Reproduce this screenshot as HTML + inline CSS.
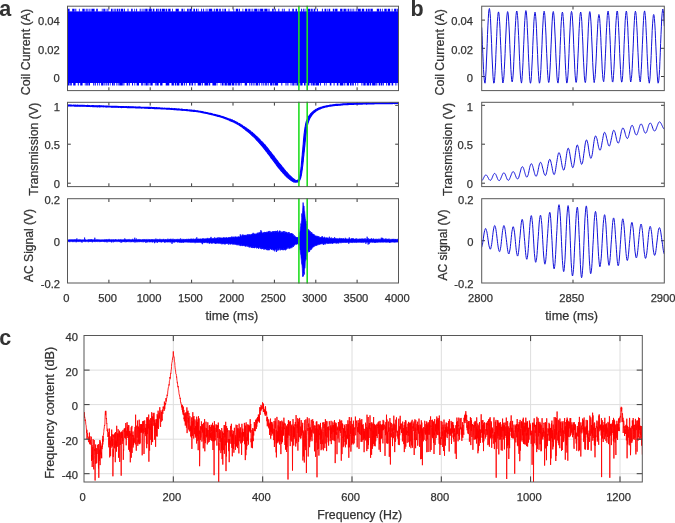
<!DOCTYPE html>
<html lang="en"><head><meta charset="utf-8"><title>Figure</title>
<style>html,body{margin:0;padding:0;background:#fff;overflow:hidden}svg{display:block}</style></head>
<body>
<svg width="675" height="523" viewBox="0 0 675 523" font-family="Liberation Sans, Arial, sans-serif">
<rect width="675" height="523" fill="#ffffff"/>
<defs>
<clipPath id="ca1"><rect x="67.5" y="6.2" width="331" height="84.4"/></clipPath>
<clipPath id="ca2"><rect x="67.5" y="102.3" width="331" height="84.3"/></clipPath>
<clipPath id="ca3"><rect x="67.5" y="198.7" width="331" height="84.3"/></clipPath>
<clipPath id="cb1"><rect x="481.7" y="6.2" width="182.6" height="84.4"/></clipPath>
<clipPath id="cb2"><rect x="481.7" y="102.3" width="182.6" height="84.3"/></clipPath>
<clipPath id="cb3"><rect x="481.7" y="198.7" width="182.6" height="84.3"/></clipPath>
<clipPath id="cc"><rect x="84" y="335.5" width="558.3" height="146.5"/></clipPath>
</defs>
<path d="M108.9 283v-3.3M108.9 198.7v3.3M150.2 283v-3.3M150.2 198.7v3.3M191.6 283v-3.3M191.6 198.7v3.3M233 283v-3.3M233 198.7v3.3M274.4 283v-3.3M274.4 198.7v3.3M315.8 283v-3.3M315.8 198.7v3.3M357.1 283v-3.3M357.1 198.7v3.3M67.5 240.7h3.3M398.5 240.7h-3.3" stroke="#3a3a3a" stroke-width="1" fill="none"/>
<path d="M108.9 186.6v-3.3M108.9 102.3v3.3M150.2 186.6v-3.3M150.2 102.3v3.3M191.6 186.6v-3.3M191.6 102.3v3.3M233 186.6v-3.3M233 102.3v3.3M274.4 186.6v-3.3M274.4 102.3v3.3M315.8 186.6v-3.3M315.8 102.3v3.3M357.1 186.6v-3.3M357.1 102.3v3.3M67.5 183.2h3.3M398.5 183.2h-3.3M67.5 144.2h3.3M398.5 144.2h-3.3M67.5 105.3h3.3M398.5 105.3h-3.3" stroke="#3a3a3a" stroke-width="1" fill="none"/>
<path d="M108.9 90.6v-3.3M108.9 6.2v3.3M150.2 90.6v-3.3M150.2 6.2v3.3M191.6 90.6v-3.3M191.6 6.2v3.3M233 90.6v-3.3M233 6.2v3.3M274.4 90.6v-3.3M274.4 6.2v3.3M315.8 90.6v-3.3M315.8 6.2v3.3M357.1 90.6v-3.3M357.1 6.2v3.3M67.5 76.5h3.3M398.5 76.5h-3.3M67.5 48.3h3.3M398.5 48.3h-3.3M67.5 20.1h3.3M398.5 20.1h-3.3" stroke="#3a3a3a" stroke-width="1" fill="none"/>
<g clip-path="url(#ca1)">
<rect x="67.5" y="11.4" width="331" height="71.6" fill="#0000ff"/>
<path d="M68 8.8h1.6v3h-1.6zM72.2 8.8h2.4v3h-2.4zM75.3 8.8h1v3h-1zM78.9 8.8h0.8v3h-0.8zM82.3 8.8h2.4v3h-2.4zM85.7 8.8h1v3h-1zM87.4 8.8h1v3h-1zM89.4 8.8h1v3h-1zM91.4 8.8h3.2v3h-3.2zM96.2 8.8h1.6v3h-1.6zM101.8 8.8h0.8v3h-0.8zM103.3 8.8h1.6v3h-1.6zM105.6 8.8h0.8v3h-0.8zM107.4 8.8h1v3h-1zM111 8.8h1.6v3h-1.6zM113.6 8.8h1v3h-1zM115.3 8.8h0.8v3h-0.8zM116.8 8.8h1.6v3h-1.6zM119.1 8.8h1v3h-1zM120.8 8.8h2.4v3h-2.4zM123.9 8.8h1v3h-1zM127.5 8.8h1v3h-1zM131.1 8.8h1.6v3h-1.6zM134.3 8.8h0.8v3h-0.8zM136.1 8.8h1v3h-1zM139.7 8.8h1v3h-1zM141.7 8.8h0.8v3h-0.8zM143.5 8.8h1v3h-1zM145.2 8.8h2.4v3h-2.4zM148.6 8.8h3.2v3h-3.2zM152.8 8.8h1.6v3h-1.6zM156 8.8h1.6v3h-1.6zM158.3 8.8h1v3h-1zM160 8.8h1v3h-1zM161.7 8.8h3.2v3h-3.2zM165.6 8.8h1.6v3h-1.6zM168.2 8.8h2.4v3h-2.4zM172.2 8.8h0.8v3h-0.8zM175.6 8.8h3.2v3h-3.2zM181.4 8.8h1.6v3h-1.6zM183.7 8.8h0.8v3h-0.8zM187.1 8.8h1.6v3h-1.6zM189.4 8.8h2.4v3h-2.4zM193.4 8.8h1.6v3h-1.6zM196 8.8h1v3h-1zM197.7 8.8h0.8v3h-0.8zM201.1 8.8h1v3h-1zM203.1 8.8h1v3h-1zM205.7 8.8h0.8v3h-0.8zM207.5 8.8h0.8v3h-0.8zM209 8.8h3.2v3h-3.2zM213.8 8.8h1v3h-1zM215.8 8.8h2.4v3h-2.4zM219.2 8.8h1.6v3h-1.6zM222.4 8.8h1v3h-1zM224.4 8.8h1.6v3h-1.6zM228.6 8.8h0.8v3h-0.8zM233.4 8.8h0.8v3h-0.8zM235.8 8.8h2.4v3h-2.4zM238.9 8.8h1v3h-1zM242.5 8.8h0.8v3h-0.8zM244.9 8.8h2.4v3h-2.4zM248.3 8.8h1.6v3h-1.6zM250.6 8.8h0.8v3h-0.8zM252.4 8.8h0.8v3h-0.8zM254.2 8.8h3.2v3h-3.2zM258.4 8.8h1v3h-1zM260.1 8.8h3.2v3h-3.2zM264.3 8.8h3.2v3h-3.2zM268.5 8.8h1v3h-1zM272.1 8.8h1.6v3h-1.6zM274.7 8.8h1v3h-1zM278.3 8.8h1v3h-1zM281.9 8.8h0.8v3h-0.8zM283.7 8.8h1v3h-1zM288.7 8.8h1v3h-1zM292.3 8.8h1.6v3h-1.6zM295.5 8.8h1.6v3h-1.6zM301.1 8.8h1v3h-1zM303.1 8.8h0.8v3h-0.8zM304.6 8.8h0.8v3h-0.8zM308 8.8h2.4v3h-2.4zM311.1 8.8h1.6v3h-1.6zM313.7 8.8h1.6v3h-1.6zM316.9 8.8h1v3h-1zM321.9 8.8h1v3h-1zM324.5 8.8h1.6v3h-1.6zM326.8 8.8h0.8v3h-0.8zM328.6 8.8h1.6v3h-1.6zM332.8 8.8h1.6v3h-1.6zM335.1 8.8h2.4v3h-2.4zM340.1 8.8h2.4v3h-2.4zM343.5 8.8h2.4v3h-2.4zM346.6 8.8h0.8v3h-0.8zM348.1 8.8h1v3h-1zM349.8 8.8h0.8v3h-0.8zM351.6 8.8h0.8v3h-0.8zM353.4 8.8h0.8v3h-0.8zM355.8 8.8h0.8v3h-0.8zM357.6 8.8h3.2v3h-3.2zM361.8 8.8h2.4v3h-2.4zM365.8 8.8h1.6v3h-1.6zM368.1 8.8h1.6v3h-1.6zM370.4 8.8h2.4v3h-2.4zM376.8 8.8h2.4v3h-2.4zM379.9 8.8h1v3h-1zM381.9 8.8h0.8v3h-0.8zM384.3 8.8h2.4v3h-2.4zM387.7 8.8h2.4v3h-2.4zM391.7 8.8h0.8v3h-0.8zM394.1 8.8h2.4v3h-2.4zM397.2 8.8h1.6v3h-1.6zM68 82.5h1.6v3.1h-1.6zM70.2 82.5h1.6v3.1h-1.6zM73.2 82.5h2.4v3.1h-2.4zM77.8 82.5h1v3.1h-1zM80.2 82.5h2.4v3.1h-2.4zM84.8 82.5h0.8v3.1h-0.8zM86.2 82.5h1.6v3.1h-1.6zM88.4 82.5h1.6v3.1h-1.6zM93.2 82.5h1v3.1h-1zM94.8 82.5h1v3.1h-1zM97.2 82.5h0.8v3.1h-0.8zM98.9 82.5h0.8v3.1h-0.8zM101.1 82.5h2.4v3.1h-2.4zM104.4 82.5h1v3.1h-1zM106.3 82.5h1v3.1h-1zM107.9 82.5h1v3.1h-1zM109.8 82.5h0.8v3.1h-0.8zM112 82.5h1.6v3.1h-1.6zM114.2 82.5h0.8v3.1h-0.8zM116.4 82.5h0.8v3.1h-0.8zM117.8 82.5h0.8v3.1h-0.8zM119.2 82.5h3.6v3.1h-3.6zM123.4 82.5h1v3.1h-1zM126.6 82.5h1.6v3.1h-1.6zM128.8 82.5h1v3.1h-1zM132 82.5h1v3.1h-1zM134.4 82.5h0.8v3.1h-0.8zM136.6 82.5h2.4v3.1h-2.4zM141.2 82.5h1.6v3.1h-1.6zM143.7 82.5h0.8v3.1h-0.8zM145.4 82.5h2.4v3.1h-2.4zM148.4 82.5h1v3.1h-1zM150.3 82.5h2.4v3.1h-2.4zM154.9 82.5h0.8v3.1h-0.8zM156.3 82.5h2.4v3.1h-2.4zM160.1 82.5h2.4v3.1h-2.4zM165.7 82.5h3.6v3.1h-3.6zM171.5 82.5h2.4v3.1h-2.4zM174.8 82.5h1.6v3.1h-1.6zM177 82.5h2.4v3.1h-2.4zM180.8 82.5h2.4v3.1h-2.4zM184.1 82.5h1v3.1h-1zM186 82.5h0.8v3.1h-0.8zM189 82.5h1.6v3.1h-1.6zM191.5 82.5h1.6v3.1h-1.6zM194.5 82.5h1v3.1h-1zM197.7 82.5h3.6v3.1h-3.6zM202.2 82.5h0.8v3.1h-0.8zM204.4 82.5h3.6v3.1h-3.6zM208.6 82.5h1.6v3.1h-1.6zM212.4 82.5h3.6v3.1h-3.6zM216.6 82.5h0.8v3.1h-0.8zM220.6 82.5h0.8v3.1h-0.8zM222 82.5h1.6v3.1h-1.6zM224.5 82.5h2.4v3.1h-2.4zM227.5 82.5h3.6v3.1h-3.6zM231.7 82.5h2.4v3.1h-2.4zM234.7 82.5h1v3.1h-1zM236.3 82.5h1v3.1h-1zM238.2 82.5h1.6v3.1h-1.6zM240.7 82.5h0.8v3.1h-0.8zM244.7 82.5h2.4v3.1h-2.4zM249.3 82.5h1v3.1h-1zM251.2 82.5h1v3.1h-1zM252.8 82.5h0.8v3.1h-0.8zM254.5 82.5h0.8v3.1h-0.8zM255.9 82.5h2.4v3.1h-2.4zM259.2 82.5h0.8v3.1h-0.8zM261.4 82.5h1v3.1h-1zM263.3 82.5h1v3.1h-1zM265.2 82.5h1.6v3.1h-1.6zM267.7 82.5h1v3.1h-1zM270.1 82.5h2.4v3.1h-2.4zM273.1 82.5h0.8v3.1h-0.8zM274.5 82.5h3.6v3.1h-3.6zM281.3 82.5h1v3.1h-1zM285.5 82.5h1v3.1h-1zM287.4 82.5h1v3.1h-1zM290.6 82.5h0.8v3.1h-0.8zM292.3 82.5h1.6v3.1h-1.6zM294.5 82.5h1v3.1h-1zM296.4 82.5h2.4v3.1h-2.4zM300.2 82.5h2.4v3.1h-2.4zM304 82.5h1.6v3.1h-1.6zM307.8 82.5h1.6v3.1h-1.6zM310.8 82.5h1v3.1h-1zM312.4 82.5h2.4v3.1h-2.4zM315.4 82.5h3.6v3.1h-3.6zM319.9 82.5h1v3.1h-1zM324.1 82.5h0.8v3.1h-0.8zM325.8 82.5h0.8v3.1h-0.8zM329.8 82.5h1.6v3.1h-1.6zM333.6 82.5h1v3.1h-1zM336.8 82.5h1.6v3.1h-1.6zM339.8 82.5h3.6v3.1h-3.6zM344.3 82.5h1v3.1h-1zM346.7 82.5h2.4v3.1h-2.4zM350 82.5h1.6v3.1h-1.6zM352.2 82.5h1.6v3.1h-1.6zM355.2 82.5h0.8v3.1h-0.8zM357.4 82.5h0.8v3.1h-0.8zM361.4 82.5h1v3.1h-1zM363.3 82.5h2.4v3.1h-2.4zM366.6 82.5h2.4v3.1h-2.4zM369.6 82.5h1.6v3.1h-1.6zM372.1 82.5h3.6v3.1h-3.6zM376.3 82.5h1v3.1h-1zM378.7 82.5h1.6v3.1h-1.6zM380.9 82.5h1.6v3.1h-1.6zM383.1 82.5h0.8v3.1h-0.8zM386.1 82.5h0.8v3.1h-0.8zM387.8 82.5h2.4v3.1h-2.4zM391.6 82.5h1.6v3.1h-1.6zM395.4 82.5h1v3.1h-1zM397.8 82.5h2.4v3.1h-2.4z" fill="#0000ff"/>
</g>
<g clip-path="url(#ca2)">
<path d="M67.5 105L68.2 105L68.8 105L69.5 105.1L70.2 105.1L70.8 105.1L71.5 105L72.1 105.2L72.8 105.2L73.5 105.1L74.1 105.1L74.8 105.2L75.5 105.1L76.1 105.2L76.8 105.2L77.4 105.1L78.1 105.3L78.8 105.2L79.4 105.2L80.1 105.3L80.8 105.3L81.4 105.3L82.1 105.4L82.8 105.4L83.4 105.4L84.1 105.5L84.7 105.4L85.4 105.5L86.1 105.5L86.7 105.5L87.4 105.4L88.1 105.4L88.7 105.6L89.4 105.6L90.1 105.7L90.7 105.7L91.4 105.7L92 105.5L92.7 105.6L93.4 105.6L94 105.7L94.7 105.7L95.4 105.8L96 105.8L96.7 105.8L97.3 105.7L98 105.9L98.7 105.8L99.3 105.6L100 105.9L100.7 105.9L101.3 105.9L102 105.9L102.7 106L103.3 105.9L104 106L104.6 106L105.3 106L106 106.1L106.6 106.1L107.3 106L108 106.2L108.6 106.2L109.3 106.3L110 106.3L110.6 106.2L111.3 106.3L111.9 106.3L112.6 106.2L113.3 106.2L113.9 106.4L114.6 106.3L115.3 106.4L115.9 106.4L116.6 106.4L117.2 106.5L117.9 106.4L118.6 106.5L119.2 106.5L119.9 106.5L120.6 106.6L121.2 106.5L121.9 106.5L122.6 106.6L123.2 106.6L123.9 106.6L124.5 106.7L125.2 106.6L125.9 106.7L126.5 106.6L127.2 106.7L127.9 106.8L128.5 106.6L129.2 106.8L129.9 106.8L130.5 106.8L131.2 106.8L131.8 106.9L132.5 106.8L133.2 106.9L133.8 106.9L134.5 107L135.2 106.9L135.8 107L136.5 107L137.1 107.1L137.8 107L138.5 107L139.1 106.9L139.8 107.1L140.5 107.1L141.1 107.2L141.8 107.2L142.5 107.2L143.1 107.2L143.8 107.2L144.4 107.3L145.1 107.3L145.8 107.2L146.4 107.3L147.1 107.3L147.8 107.3L148.4 107.4L149.1 107.3L149.8 107.4L150.4 107.5L151.1 107.3L151.7 107.6L152.4 107.5L153.1 107.5L153.7 107.6L154.4 107.6L155.1 107.7L155.7 107.8L156.4 107.6L157 107.7L157.7 107.9L158.4 107.9L159 107.8L159.7 107.9L160.4 108L161 108L161.7 108.1L162.4 108L163 108.1L163.7 108.2L164.3 108.1L165 108.2L165.7 108.2L166.3 108.3L167 108.3L167.7 108.4L168.3 108.3L169 108.3L169.7 108.4L170.3 108.5L171 108.6L171.6 108.4L172.3 108.6L173 108.7L173.6 108.7L174.3 108.5L175 108.8L175.6 108.8L176.3 108.9L176.9 108.9L177.6 109L178.3 109L178.9 108.8L179.6 109.2L180.3 109.2L180.9 109.2L181.6 109.1L182.3 109.3L182.9 109.4L183.6 109.5L184.2 109.5L184.9 109.6L185.6 109.7L186.2 109.6L186.9 109.6L187.6 109.8L188.2 109.9L188.9 110L189.6 109.9L190.2 110.1L190.9 110L191.5 110.1L192.2 110.3L192.9 110.4L193.5 110.4L194.2 110.4L194.9 110.4L195.5 110.6L196.2 110.8L196.8 110.8L197.5 110.8L198.2 111L198.8 111.1L199.5 111.3L200.2 111.4L200.8 111.4L201.5 111.6L202.2 111.6L202.8 111.8L203.5 111.9L204.1 112.1L204.8 112.2L205.5 112.3L206.1 112.5L206.8 112.6L207.5 112.8L208.1 112.9L208.8 113L209.5 113.2L210.1 113.4L210.8 113.4L211.4 113.5L212.1 113.7L212.8 114L213.4 114.2L214.1 114.2L214.8 114.5L215.4 114.6L216.1 114.8L216.7 115L217.4 115.1L218.1 115.2L218.7 115.4L219.4 115.6L220.1 115.8L220.7 116.1L221.4 116.2L222.1 116.4L222.7 116.6L223.4 116.8L224 117L224.7 117.3L225.4 117.5L226 117.7L226.7 118.1L227.4 118.2L228 118.5L228.7 118.8L229.4 119L230 119.1L230.7 119.5L231.3 119.8L232 119.8L232.7 120.3L233.3 120.7L234 120.9L234.7 121.1L235.3 121.6L236 121.9L236.6 122.1L237.3 122.5L238 122.9L238.6 123.2L239.3 123.5L240 123.9L240.6 124.4L241.3 124.8L242 125.1L242.6 125.6L243.3 126.1L243.9 126.5L244.6 127L245.3 127.4L245.9 127.7L246.6 128.4L247.3 128.8L247.9 129.3L248.6 129.8L249.3 130.3L249.9 130.6L250.6 131.2L251.2 131.9L251.9 132.3L252.6 132.8L253.2 133.6L253.9 133.9L254.6 134.6L255.2 135.2L255.9 135.8L256.5 136.5L257.2 136.9L257.9 137.7L258.5 138.2L259.2 139L259.9 139.7L260.5 140.4L261.2 141.1L261.9 141.7L262.5 142.4L263.2 143L263.8 143.9L264.5 144.4L265.2 145.2L265.8 146L266.5 146.9L267.2 147.7L267.8 148.4L268.5 149.4L269.2 150.3L269.8 151.1L270.5 151.9L271.1 152.7L271.8 153.6L272.5 154.3L273.1 155.3L273.8 155.9L274.5 157L275.1 157.9L275.8 158.7L276.4 159.6L277.1 160.4L277.8 161.4L278.4 162.2L279.1 163.1L279.8 163.9L280.4 164.5L281.1 165.4L281.8 166.3L282.4 167.1L283.1 167.8L283.7 168.6L284.4 169.5L285.1 170.3L285.7 171.1L286.4 171.9L287.1 172.5L287.7 173.3L288.4 174L289.1 174.8L289.7 175.4L290.4 176.1L290.9 176.6L291 176.5L291 176.7L291.2 176.7L291.3 177L291.4 177.1L291.5 177.2L291.7 177.2L291.7 177.4L291.8 177.3L291.9 177.5L292 177.6L292.2 177.7L292.3 177.9L292.4 177.9L292.4 177.8L292.5 178.1L292.7 178.3L292.8 178.3L292.9 178.5L293 178.5L293 178.6L293.2 178.6L293.3 178.7L293.4 178.8L293.5 178.9L293.7 178.9L293.7 179.1L293.8 179.1L293.9 179.2L294 179.2L294.2 179.2L294.3 179.5L294.4 179.4L294.4 179.4L294.5 179.7L294.7 179.8L294.8 179.9L294.9 180L295 180L295 180.1L295.2 180.2L295.3 180.3L295.4 180.3L295.5 180.2L295.7 180.5L295.7 180.5L295.8 180.5L295.9 180.6L296 180.6L296.2 180.7L296.3 180.8L296.3 180.7L296.4 180.7L296.5 180.7L296.7 180.5L296.8 180.6L296.9 180.7L297 180.7L297 180.7L297.2 180.4L297.3 180.5L297.4 180.4L297.5 180.4L297.7 180.4L297.7 180.3L297.8 180.2L297.9 180.1L298 180L298.2 179.9L298.3 179.7L298.3 179.8L298.4 179.6L298.5 179.6L298.7 179.4L298.8 179.3L298.9 179.2L299 178.8L299 178.9L299.2 178.7L299.3 178.3L299.4 177.8L299.5 177.2L299.7 176.7L299.7 176.5L299.8 176.1L299.9 175.4L300 174.7L300.2 173.8L300.3 173.1L300.3 172.8L300.4 172.2L300.5 171.4L300.7 170.5L300.8 169.8L300.9 168.9L301 168.1L301 167.6L301.2 166.5L301.3 165.4L301.4 164L301.5 162.6L301.7 161.2L301.7 161.2L301.8 159.8L301.9 158.4L302 157L302.2 155.5L302.3 154.3L302.3 153.7L302.4 152.8L302.5 151.7L302.7 150.3L302.8 148.9L302.9 147.6L303 146.6L303 146L303.2 144.5L303.3 143.1L303.4 141.9L303.5 140.4L303.6 139.2L303.6 139.1L303.8 137.6L303.9 136.4L304 135.2L304.1 134.1L304.3 132.9L304.3 132.8L304.4 132L304.5 131L304.6 130.1L304.8 129.3L304.9 128.4L305 127.9L305 127.4L305.1 126.8L305.3 126.2L305.4 125.6L305.5 125L305.6 124.3L305.6 124.3L305.8 123.8L305.9 123.3L306 122.7L306.1 122.2L306.3 121.8L306.3 121.8L306.4 121.4L306.5 121L306.6 120.8L306.8 120.3L306.9 120.1L307 119.9L307 119.7L307.1 119.5L307.3 119.2L307.4 118.9L307.5 118.7L307.6 118.5L307.6 118.5L307.8 118.2L307.9 117.9L308 117.8L308.1 117.5L308.3 117.2L308.3 117.2L308.4 117L308.5 116.9L308.6 116.6L308.8 116.3L308.9 116.2L309 115.9L309 116L309.1 115.8L309.3 115.7L309.4 115.3L309.5 115.2L309.6 115L309.6 115.1L309.8 115L309.9 114.8L310 114.7L310.1 114.6L310.3 114.4L310.3 114.3L310.4 114.3L310.5 114L310.6 113.7L310.8 113.8L310.9 113.6L310.9 113.5L311 113.5L311.1 113.3L311.3 113.3L311.4 113.1L311.5 112.9L311.6 112.8L311.6 112.9L311.8 112.7L311.9 112.6L312 112.5L312.1 112.3L312.3 112.3L312.3 112.3L312.4 112.1L312.5 112L312.6 111.9L312.8 111.8L312.9 111.7L312.9 111.7L313 111.6L313.1 111.4L313.3 111.4L313.4 111.3L313.5 111.2L313.6 111.1L313.6 111.1L313.8 111L313.9 110.7L314 110.8L314.1 110.6L314.3 110.6L314.3 110.6L314.4 110.6L314.5 110.5L314.6 110.4L314.8 110.3L314.9 110.2L314.9 110L315 110.2L315.1 109.8L315.3 110L315.4 109.8L315.5 109.8L315.6 109.8L315.6 109.7L315.8 109.5L316.2 109.2L316.9 108.9L317.6 108.4L318.2 108.2L318.9 107.9L319.6 107.7L320.2 107.5L320.9 107.2L321.6 107.1L322.2 106.9L322.9 106.8L323.5 106.5L324.2 106.2L324.9 106.2L325.5 106.1L326.2 105.9L326.9 105.8L327.5 105.7L328.2 105.5L328.9 105.5L329.5 105.2L330.2 105L330.8 105.1L331.5 105L332.2 105L332.8 104.8L333.5 104.8L334.2 104.6L334.8 104.7L335.5 104.4L336.1 104.4L336.8 104.4L337.5 104.4L338.1 104.4L338.8 104.2L339.5 104.2L340.1 104.2L340.8 104.1L341.5 104.1L342.1 104.1L342.8 103.9L343.4 103.8L344.1 103.9L344.8 103.7L345.4 103.8L346.1 103.8L346.8 103.8L347.4 103.6L348.1 103.6L348.8 103.6L349.4 103.6L350.1 103.5L350.7 103.5L351.4 103.5L352.1 103.5L352.7 103.3L353.4 103.3L354.1 103.2L354.7 103.3L355.4 103.4L356 103.3L356.7 103.3L357.4 103.3L358 103.3L358.7 103.2L359.4 103L360 103.2L360.7 103.2L361.4 103.2L362 103.2L362.7 103.1L363.3 103.1L364 103.1L364.7 103.1L365.3 103.1L366 102.9L366.7 102.8L367.3 102.9L368 103.1L368.7 102.8L369.3 103L370 103L370.6 103L371.3 103L372 103L372.6 102.9L373.3 102.9L374 102.9L374.6 102.9L375.3 102.8L375.9 102.9L376.6 102.8L377.3 102.9L377.9 102.8L378.6 102.9L379.3 102.8L379.9 102.8L380.6 102.9L381.3 102.9L381.9 102.8L382.6 102.8L383.2 102.7L383.9 102.7L384.6 102.8L385.2 102.7L385.9 102.8L386.6 102.7L387.2 102.8L387.9 102.7L388.6 102.7L389.2 102.7L389.9 102.5L390.5 102.7L391.2 102.5L391.9 102.8L392.5 102.6L393.2 102.7L393.9 102.6L394.5 102.7L395.2 102.5L395.8 102.7L396.5 102.8L397.2 102.6L397.8 102.5L398.5 102.6L398.5 103.5L397.8 103.5L397.2 103.5L396.5 103.5L395.8 103.5L395.2 103.5L394.5 103.6L393.9 103.5L393.2 103.5L392.5 103.6L391.9 103.6L391.2 103.5L390.5 103.7L389.9 103.6L389.2 103.6L388.6 103.7L387.9 103.5L387.2 103.6L386.6 103.7L385.9 103.6L385.2 103.6L384.6 103.7L383.9 103.6L383.2 103.6L382.6 103.6L381.9 103.6L381.3 103.7L380.6 103.6L379.9 103.7L379.3 103.7L378.6 103.8L377.9 103.8L377.3 103.7L376.6 103.7L375.9 103.7L375.3 103.7L374.6 103.7L374 103.9L373.3 103.8L372.6 103.9L372 103.8L371.3 103.9L370.6 103.8L370 103.9L369.3 103.9L368.7 103.9L368 103.8L367.3 104L366.7 104.2L366 103.9L365.3 104L364.7 104L364 104L363.3 103.9L362.7 104.1L362 104L361.4 104.1L360.7 104.1L360 104L359.4 104.1L358.7 104.2L358 104.1L357.4 104.1L356.7 104.1L356 104.1L355.4 104.3L354.7 104.2L354.1 104.2L353.4 104.4L352.7 104.5L352.1 104.3L351.4 104.4L350.7 104.3L350.1 104.4L349.4 104.5L348.8 104.5L348.1 104.6L347.4 104.6L346.8 104.6L346.1 104.6L345.4 104.7L344.8 104.8L344.1 104.8L343.4 104.8L342.8 104.9L342.1 104.9L341.5 104.9L340.8 105.1L340.1 105L339.5 105.2L338.8 105.2L338.1 105.2L337.5 105.5L336.8 105.3L336.1 105.4L335.5 105.4L334.8 105.5L334.2 105.6L333.5 105.7L332.8 105.7L332.2 105.9L331.5 105.9L330.8 106.1L330.2 106.1L329.5 106.2L328.9 106.3L328.2 106.5L327.5 106.6L326.9 106.9L326.2 106.9L325.5 107L324.9 107.2L324.2 107.4L323.5 107.7L322.9 107.8L322.2 108.1L321.6 108.3L320.9 108.5L320.2 108.9L319.6 109.1L318.9 109.4L318.2 109.7L317.6 110L316.9 110.6L316.2 110.9L315.8 111.2L315.6 111.6L315.6 111.3L315.5 111.5L315.4 111.6L315.3 111.6L315.1 111.8L315 111.8L314.9 111.8L314.9 112L314.8 112.1L314.6 112.1L314.5 112.2L314.4 112.4L314.3 112.4L314.3 112.4L314.1 112.5L314 112.6L313.9 112.8L313.8 112.9L313.6 112.9L313.6 113.1L313.5 113.1L313.4 113.3L313.3 113.4L313.1 113.5L313 113.6L312.9 113.8L312.9 113.9L312.8 114L312.6 114L312.5 114.2L312.4 114.5L312.3 114.5L312.3 114.6L312.1 114.8L312 115.1L311.9 115L311.8 115.3L311.6 115.4L311.6 115.4L311.5 115.5L311.4 115.8L311.3 116.2L311.1 116.1L311 116.3L310.9 116.4L310.9 116.7L310.8 116.8L310.6 116.9L310.5 117.1L310.4 117.4L310.3 117.5L310.3 117.5L310.1 117.8L310 118.2L309.9 118.2L309.8 118.4L309.6 118.7L309.6 118.9L309.5 119L309.4 119.4L309.3 119.7L309.1 119.9L309 120.2L309 120.4L308.9 120.6L308.8 121L308.6 121.3L308.5 121.6L308.4 122L308.3 122.4L308.3 122.4L308.1 122.8L308 123.2L307.9 123.6L307.8 124.2L307.6 124.5L307.6 124.7L307.5 125.1L307.4 125.7L307.3 126.2L307.1 126.9L307 127.7L307 127.9L306.9 128.4L306.8 129.1L306.6 130L306.5 130.9L306.4 131.8L306.3 132.4L306.3 132.7L306.1 133.8L306 134.7L305.9 135.4L305.8 136.4L305.6 137.6L305.6 137.5L305.5 138.6L305.4 139.7L305.3 141L305.1 142.3L305 143.7L305 144.2L304.9 144.9L304.8 146.2L304.6 147.4L304.5 148.6L304.4 149.9L304.3 150.7L304.3 151.1L304.1 152.3L304 153.3L303.9 154.5L303.8 155.7L303.6 156.8L303.6 156.9L303.5 158L303.4 159.2L303.3 160.4L303.2 161.7L303 162.8L303 163.1L302.9 164.1L302.8 165L302.7 165.9L302.5 167L302.4 168.1L302.3 168.5L302.3 168.9L302.2 169.9L302 170.7L301.9 171.5L301.8 172.3L301.7 173.2L301.7 173.2L301.5 173.8L301.4 174.5L301.3 175.3L301.2 175.8L301 176.3L301 176.5L300.9 176.8L300.8 177.3L300.7 177.8L300.5 178L300.4 178.4L300.3 178.6L300.3 178.7L300.2 179L300 179.6L299.9 179.7L299.8 179.9L299.7 180.2L299.7 180.3L299.5 180.3L299.4 180.7L299.3 180.8L299.2 181L299 181L299 181L298.9 181.3L298.8 181.2L298.7 181.4L298.5 181.3L298.4 181.4L298.3 181.5L298.3 181.5L298.2 181.6L298 181.6L297.9 181.8L297.8 181.7L297.7 181.9L297.7 182L297.5 181.9L297.4 181.9L297.3 181.9L297.2 182.1L297 181.9L297 181.9L296.9 182L296.8 182L296.7 182L296.5 182L296.4 182.1L296.3 182L296.3 182.3L296.2 182L296 182L295.9 182.1L295.8 182.1L295.7 182.1L295.7 182L295.5 182.1L295.4 182L295.3 182L295.2 182.1L295 182L295 181.9L294.9 182L294.8 182.1L294.7 182.1L294.5 181.9L294.4 181.9L294.4 181.9L294.3 181.9L294.2 181.9L294 181.9L293.9 181.8L293.8 181.7L293.7 181.7L293.7 181.7L293.5 181.7L293.4 181.8L293.3 181.5L293.2 181.6L293 181.4L293 181.4L292.9 181.3L292.8 181.4L292.7 181.2L292.5 181.3L292.4 181.1L292.4 181.1L292.3 181.1L292.2 181L292 180.9L291.9 181L291.8 180.8L291.7 180.7L291.7 180.7L291.5 180.6L291.4 180.5L291.3 180.4L291.2 180.5L291 180.3L291 180.3L290.9 180.2L290.4 179.9L289.7 179.3L289.1 178.8L288.4 178.2L287.7 177.8L287.1 177.3L286.4 176.5L285.7 175.9L285.1 175.3L284.4 174.5L283.7 173.7L283.1 173.1L282.4 172.2L281.8 171.5L281.1 170.8L280.4 170L279.8 169.1L279.1 168.4L278.4 167.7L277.8 166.7L277.1 165.8L276.4 164.9L275.8 164L275.1 163.2L274.5 162.2L273.8 161.3L273.1 160.5L272.5 159.6L271.8 158.7L271.1 158L270.5 157L269.8 156L269.2 155.1L268.5 154.2L267.8 153.5L267.2 152.5L266.5 151.7L265.8 150.8L265.2 149.9L264.5 149.1L263.8 148.2L263.2 147.4L262.5 146.7L261.9 145.8L261.2 145.1L260.5 144.2L259.9 143.6L259.2 142.7L258.5 142L257.9 141.3L257.2 140.5L256.5 140L255.9 139.2L255.2 138.4L254.6 137.7L253.9 137.1L253.2 136.6L252.6 135.9L251.9 135.4L251.2 134.6L250.6 134L249.9 133.4L249.3 132.9L248.6 132.2L247.9 131.7L247.3 131.2L246.6 130.7L245.9 130.3L245.3 129.6L244.6 129L243.9 128.5L243.3 128.2L242.6 127.6L242 127L241.3 126.6L240.6 126.2L240 125.7L239.3 125.2L238.6 124.8L238 124.4L237.3 124L236.6 123.8L236 123.3L235.3 123L234.7 122.7L234 122.3L233.3 122L232.7 121.8L232 121.4L231.3 121.2L230.7 120.9L230 120.7L229.4 120.4L228.7 119.9L228 119.7L227.4 119.4L226.7 119.1L226 119L225.4 118.7L224.7 118.5L224 118.1L223.4 118L222.7 117.6L222.1 117.5L221.4 117.2L220.7 117.1L220.1 116.8L219.4 116.7L218.7 116.5L218.1 116.5L217.4 116.2L216.7 116L216.1 115.7L215.4 115.6L214.8 115.5L214.1 115.3L213.4 115.1L212.8 114.9L212.1 114.8L211.4 114.7L210.8 114.5L210.1 114.3L209.5 114.2L208.8 114.1L208.1 113.8L207.5 113.8L206.8 113.5L206.1 113.4L205.5 113.3L204.8 113.1L204.1 112.9L203.5 112.9L202.8 112.7L202.2 112.6L201.5 112.4L200.8 112.3L200.2 112.2L199.5 112L198.8 111.9L198.2 111.9L197.5 111.8L196.8 111.7L196.2 111.5L195.5 111.5L194.9 111.5L194.2 111.3L193.5 111.4L192.9 111.2L192.2 111.1L191.5 111L190.9 111.1L190.2 111L189.6 111L188.9 110.8L188.2 110.7L187.6 110.6L186.9 110.6L186.2 110.4L185.6 110.4L184.9 110.4L184.2 110.3L183.6 110.3L182.9 110.4L182.3 110.2L181.6 110.2L180.9 110.1L180.3 110L179.6 110L178.9 109.9L178.3 109.9L177.6 109.8L176.9 109.9L176.3 109.6L175.6 109.7L175 109.7L174.3 109.5L173.6 109.6L173 109.4L172.3 109.4L171.6 109.4L171 109.4L170.3 109.3L169.7 109.2L169 109.2L168.3 109.1L167.7 109.2L167 109.2L166.3 109.1L165.7 109L165 109L164.3 109L163.7 108.9L163 108.9L162.4 109L161.7 108.8L161 109L160.4 108.8L159.7 108.8L159 108.7L158.4 108.7L157.7 108.6L157 108.6L156.4 108.6L155.7 108.7L155.1 108.5L154.4 108.7L153.7 108.4L153.1 108.5L152.4 108.4L151.7 108.3L151.1 108.3L150.4 108.4L149.8 108.4L149.1 108.3L148.4 108.4L147.8 108.3L147.1 108.3L146.4 108.2L145.8 108.1L145.1 108.2L144.4 108.1L143.8 108L143.1 108L142.5 108L141.8 108.1L141.1 107.9L140.5 107.9L139.8 108L139.1 107.9L138.5 107.8L137.8 107.9L137.1 107.8L136.5 107.9L135.8 108L135.2 107.7L134.5 107.8L133.8 107.7L133.2 107.7L132.5 107.7L131.8 107.8L131.2 107.6L130.5 107.8L129.9 107.7L129.2 107.7L128.5 107.6L127.9 107.5L127.2 107.6L126.5 107.5L125.9 107.5L125.2 107.5L124.5 107.5L123.9 107.4L123.2 107.5L122.6 107.5L121.9 107.4L121.2 107.6L120.6 107.4L119.9 107.3L119.2 107.3L118.6 107.4L117.9 107.3L117.2 107.3L116.6 107.3L115.9 107.3L115.3 107.2L114.6 107.2L113.9 107.1L113.3 107.3L112.6 107.2L111.9 107.3L111.3 107.2L110.6 107L110 107L109.3 107L108.6 107L108 106.9L107.3 107L106.6 107.1L106 106.9L105.3 106.9L104.6 106.8L104 106.8L103.3 106.9L102.7 106.8L102 106.8L101.3 106.8L100.7 106.8L100 106.9L99.3 106.9L98.7 106.8L98 106.7L97.3 106.9L96.7 106.7L96 106.6L95.4 106.6L94.7 106.6L94 106.5L93.4 106.6L92.7 106.6L92 106.5L91.4 106.5L90.7 106.6L90.1 106.4L89.4 106.5L88.7 106.4L88.1 106.5L87.4 106.4L86.7 106.4L86.1 106.3L85.4 106.3L84.7 106.3L84.1 106.3L83.4 106.3L82.8 106.3L82.1 106.3L81.4 106.1L80.8 106.2L80.1 106.2L79.4 106.2L78.8 106.1L78.1 106.1L77.4 106.2L76.8 106.1L76.1 106.3L75.5 106.1L74.8 106.2L74.1 105.9L73.5 106L72.8 106L72.1 106L71.5 106L70.8 106.1L70.2 105.9L69.5 105.8L68.8 105.9L68.2 106.1L67.5 105.9Z" fill="#0000ff" stroke="#0000ff" stroke-width="1.1" stroke-linejoin="round"/>
</g>
<g clip-path="url(#ca3)">
<path d="M67.5 240L67.7 239.8L68 239.8L68.2 239.7L68.5 239.9L68.7 239.9L69 240L69.2 239.9L69.5 239.7L69.7 239.6L70 239.6L70.2 239.8L70.5 240L70.7 239.6L71 239.9L71.2 239.5L71.5 239.7L71.7 240L72 239.7L72.2 239.9L72.5 239.8L72.7 239.5L73 239.9L73.2 239.6L73.5 239.8L73.7 239.9L74 239.5L74.2 239.8L74.5 239.5L74.7 239.9L74.9 240L75.2 239.9L75.4 239.4L75.7 239.9L75.9 239.6L76.2 239.5L76.4 239.7L76.7 239.8L76.9 238.4L77.2 239.9L77.4 240L77.7 239.7L77.9 239.8L78.2 239.8L78.4 239.8L78.7 239.9L78.9 239.5L79.2 239.4L79.4 239.8L79.7 239.8L79.9 239.9L80.2 239.6L80.4 239.6L80.7 239.9L80.9 239.8L81.2 240L81.4 239.7L81.7 239.9L81.9 239.9L82.1 239.8L82.4 239.7L82.6 239.9L82.9 239.7L83.1 239.7L83.4 239.9L83.6 239.9L83.9 239.6L84.1 239.9L84.4 239.7L84.6 237.5L84.9 240L85.1 239.8L85.4 239.8L85.6 239.8L85.9 239.8L86.1 239.7L86.4 240L86.6 239.9L86.9 239.9L87.1 239.8L87.4 239.9L87.6 239.9L87.9 239.6L88.1 239.6L88.4 239.8L88.6 239.5L88.8 239.9L89.1 239.8L89.3 239.7L89.6 240L89.8 239.4L90.1 239.9L90.3 239.7L90.6 239.4L90.8 239.9L91.1 239.9L91.3 239.1L91.6 239.7L91.8 239.7L92.1 239.7L92.3 239.7L92.6 239.5L92.8 240.1L93.1 239.8L93.3 239.8L93.6 239.9L93.8 239.7L94.1 239.8L94.3 239.6L94.6 239.9L94.8 237.7L95.1 239.8L95.3 239.9L95.6 239.8L95.8 239.5L96 239.7L96.3 239.5L96.5 239.6L96.8 239.9L97 239.8L97.3 239.4L97.5 239.7L97.8 239.8L98 239.9L98.3 239.6L98.5 239.8L98.8 239.6L99 239.7L99.3 239.7L99.5 239.8L99.8 239.7L100 239.8L100.3 239.9L100.5 239.8L100.8 239.7L101 239.9L101.3 239.9L101.5 239.6L101.8 239.9L102 239.9L102.3 239.8L102.5 239.8L102.8 239.7L103 240L103.2 239.9L103.5 239.8L103.7 239.7L104 239.6L104.2 239.5L104.5 239.8L104.7 239.8L105 239.4L105.2 239.8L105.5 239.7L105.7 239.7L106 239.7L106.2 239.6L106.5 239.2L106.7 239.9L107 239.7L107.2 239.8L107.5 239.5L107.7 239.8L108 239.6L108.2 239.6L108.5 239.7L108.7 239.5L109 239.6L109.2 238.9L109.5 239.9L109.7 240L110 239.8L110.2 239.5L110.4 239.7L110.7 239.8L110.9 239.8L111.2 239.7L111.4 239.7L111.7 239.6L111.9 239.6L112.2 239.8L112.4 239.5L112.7 239.7L112.9 239.7L113.2 239.6L113.4 239.6L113.7 239.7L113.9 239.6L114.2 239.7L114.4 239.7L114.7 239.7L114.9 239.8L115.2 239.8L115.4 239.7L115.7 239.1L115.9 239.8L116.2 239.8L116.4 239.7L116.7 239.8L116.9 239.7L117.2 239.8L117.4 239.7L117.6 239.8L117.9 239.9L118.1 239.7L118.4 239.5L118.6 239.5L118.9 239.7L119.1 240L119.4 239.7L119.6 239.6L119.9 239.8L120.1 239.7L120.4 239.4L120.6 239.3L120.9 239.7L121.1 239.9L121.4 239.6L121.6 239.8L121.9 239.5L122.1 239.7L122.4 239.7L122.6 239.8L122.9 239.7L123.1 239.6L123.4 239.6L123.6 239.9L123.9 239.8L124.1 239.6L124.3 239.8L124.6 239.7L124.8 238.4L125.1 239.7L125.3 239.3L125.6 239.7L125.8 239.6L126.1 239.6L126.3 239.5L126.6 239.8L126.8 239.6L127.1 239.5L127.3 239.6L127.6 239.6L127.8 239.9L128.1 239.9L128.3 239.5L128.6 239.4L128.8 239.3L129.1 239.8L129.3 239.7L129.6 239.5L129.8 239.3L130.1 239.5L130.3 239.8L130.6 239.8L130.8 239.7L131.1 239.8L131.3 239.5L131.5 239.8L131.8 239.7L132 239.5L132.3 239.6L132.5 239.8L132.8 238.8L133 239.4L133.3 239.6L133.5 239.7L133.8 239.7L134 239.6L134.3 239.7L134.5 239.7L134.8 237.7L135 239.5L135.3 239.3L135.5 239.7L135.8 239.6L136 239.7L136.3 239.8L136.5 238.6L136.8 239.4L137 239.8L137.3 239.8L137.5 239.6L137.8 239.7L138 239.7L138.3 239.5L138.5 239.8L138.7 239.3L139 239.7L139.2 239.5L139.5 239.6L139.7 239.5L140 239.7L140.2 239.3L140.5 239.8L140.7 239.7L141 239.7L141.2 239.7L141.5 239.8L141.7 239.8L142 239.4L142.2 239.5L142.5 239.5L142.7 239.6L143 239.5L143.2 239.6L143.5 239.4L143.7 239.6L144 239.8L144.2 239.2L144.5 239.4L144.7 239.8L145 239.7L145.2 239.4L145.5 239.4L145.7 239.6L145.9 239.7L146.2 239.6L146.4 239.5L146.7 239.4L146.9 239.5L147.2 239.4L147.4 239.8L147.7 239.5L147.9 239.7L148.2 239.7L148.4 239.5L148.7 239.4L148.9 239.4L149.2 239.1L149.4 239.5L149.7 239.5L149.9 239.8L150.2 239.6L150.4 239.7L150.7 239.5L150.9 239.8L151.2 239.6L151.4 239.7L151.7 239.6L151.9 239L152.2 239.4L152.4 239.5L152.6 239.5L152.9 239.6L153.1 239.4L153.4 239.6L153.6 239.6L153.9 239.5L154.1 239.7L154.4 239.5L154.6 239.4L154.9 239.4L155.1 239.8L155.4 239.6L155.6 239.4L155.9 238.6L156.1 239.4L156.4 239.5L156.6 239.7L156.9 239.2L157.1 239.2L157.4 239.6L157.6 239.3L157.9 239.5L158.1 239.4L158.4 239.5L158.6 239.5L158.9 239.6L159.1 239.4L159.4 239.7L159.6 239.7L159.8 238.8L160.1 239.6L160.3 239.6L160.6 239.4L160.8 239.4L161.1 239.5L161.3 239.6L161.6 239.3L161.8 239.4L162.1 239.7L162.3 239.5L162.6 239.4L162.8 239.6L163.1 239L163.3 239.1L163.6 239.3L163.8 239.4L164.1 239.4L164.3 239.4L164.6 239.5L164.8 239.7L165.1 239.5L165.3 239.1L165.6 239.6L165.8 239.5L166.1 239.5L166.3 239.5L166.6 239.5L166.8 239.6L167 239.5L167.3 239.7L167.5 239.5L167.8 238.7L168 239.7L168.3 239.4L168.5 239.5L168.8 239.2L169 239.3L169.3 239.3L169.5 239L169.8 239.3L170 239.4L170.3 239.1L170.5 238.9L170.8 239L171 239.2L171.3 239.1L171.5 239.3L171.8 239.5L172 239.5L172.3 239.4L172.5 239.4L172.8 238.8L173 239.5L173.3 239.4L173.5 239.3L173.8 239.4L174 239.5L174.2 239.2L174.5 239.3L174.7 239.5L175 239.3L175.2 239.7L175.5 239.3L175.7 239.4L176 239.5L176.2 239.3L176.5 239.2L176.7 239.4L177 239.1L177.2 239.5L177.5 239.3L177.7 239.1L178 239.4L178.2 239.3L178.5 239.4L178.7 239.3L179 239.1L179.2 239.2L179.5 239.5L179.7 239.5L180 238.9L180.2 238.5L180.5 238.7L180.7 239.2L181 239.4L181.2 239.3L181.4 239.2L181.7 239.4L181.9 239.3L182.2 239.2L182.4 239.4L182.7 239.3L182.9 239.4L183.2 239L183.4 239.2L183.7 239.1L183.9 239.5L184.2 239.3L184.4 239.4L184.7 239.5L184.9 239.5L185.2 239.1L185.4 239.4L185.7 239.1L185.9 239.3L186.2 239.3L186.4 239.5L186.7 238.9L186.9 239.1L187.2 239.2L187.4 239.1L187.7 239.4L187.9 239.2L188.1 239.1L188.4 239L188.6 239.2L188.9 239.3L189.1 239L189.4 239.3L189.6 239L189.9 239.2L190.1 239L190.4 239.3L190.6 238.8L190.9 239.3L191.1 239.3L191.4 238.9L191.6 238.8L191.9 238.9L192.1 239.2L192.4 239.1L192.6 239.2L192.9 239.1L193.1 239.1L193.4 238.7L193.6 239.4L193.9 239.1L194.1 239L194.4 239.2L194.6 239.5L194.9 239.1L195.1 238.9L195.3 239.2L195.6 238.8L195.8 239L196.1 238.8L196.3 239.3L196.6 239.2L196.8 237.3L197.1 238.9L197.3 239L197.6 239.1L197.8 239L198.1 239L198.3 239L198.6 239.1L198.8 238.8L199.1 239.1L199.3 239L199.6 239L199.8 239.1L200.1 239L200.3 238.9L200.6 238.9L200.8 238.8L201.1 239.1L201.3 239L201.6 239.2L201.8 238.9L202.1 238.9L202.3 238.5L202.5 238.9L202.8 238.6L203 239.2L203.3 239.1L203.5 238.8L203.8 238.4L204 238.6L204.3 239.1L204.5 239L204.8 238.9L205 238.8L205.3 239L205.5 238.6L205.8 238.9L206 238.8L206.3 238.7L206.5 238.7L206.8 238.8L207 238.4L207.3 238.4L207.5 237.9L207.8 238.3L208 238.5L208.3 238.4L208.5 238.6L208.8 238.8L209 238.8L209.3 238.7L209.5 238.5L209.7 238.9L210 238.1L210.2 238.1L210.5 238.6L210.7 238.9L211 236.9L211.2 238.2L211.5 238.2L211.7 238.5L212 238.5L212.2 238.4L212.5 238.7L212.7 238.3L213 238.7L213.2 238.2L213.5 238.5L213.7 238.4L214 238.6L214.2 238.3L214.5 238L214.7 237.4L215 238.4L215.2 238.4L215.5 238.5L215.7 238.2L216 237.9L216.2 238.5L216.4 238.6L216.7 238L216.9 238.2L217.2 237.7L217.4 238.2L217.7 237.7L217.9 238.1L218.2 238.4L218.4 238.4L218.7 237.4L218.9 238.4L219.2 237.9L219.4 237.8L219.7 238L219.9 237.6L220.2 237.9L220.4 238L220.7 237.8L220.9 238.1L221.2 237.9L221.4 238.1L221.7 238.3L221.9 237.7L222.2 237.9L222.4 238.2L222.7 238L222.9 238L223.2 237.8L223.4 238.1L223.6 237.5L223.9 237.6L224.1 238L224.4 237.8L224.6 237.8L224.9 237.8L225.1 237.8L225.4 238.1L225.6 238.1L225.9 237.6L226.1 237.4L226.4 238.3L226.6 237.5L226.9 237.7L227.1 237.7L227.4 237.9L227.6 237.9L227.9 238L228.1 237.9L228.4 237.6L228.6 238L228.9 237.3L229.1 237.9L229.4 237.3L229.6 237.4L229.9 237.7L230.1 237.8L230.4 237.2L230.6 237.5L230.8 237.3L231.1 237.5L231.3 237.2L231.6 237.6L231.8 236.5L232.1 237.4L232.3 236.9L232.6 237.6L232.8 237.5L233.1 236.9L233.3 237.1L233.6 237.4L233.8 236.7L234.1 237.2L234.3 237.2L234.6 236.9L234.8 237.4L235.1 236.9L235.3 236.5L235.6 237.3L235.8 237.1L236.1 236.8L236.3 236.9L236.6 237.2L236.8 236.9L237.1 237.5L237.3 236.9L237.6 237L237.8 236.8L238 236.7L238.3 236.7L238.5 236.6L238.8 236.8L239 236.9L239.3 236.9L239.5 236.9L239.8 236.6L240 236.5L240.3 234.3L240.5 236.1L240.8 236.1L241 235.6L241.3 236.5L241.5 236.5L241.8 235.8L242 236.2L242.3 234.5L242.5 236L242.8 235.6L243 235.8L243.3 234.7L243.5 235.7L243.8 235.6L244 235.7L244.3 235.7L244.5 234.9L244.8 235.9L245 235.1L245.2 235.6L245.5 235L245.7 235.4L246 235.7L246.2 234.8L246.5 235.2L246.7 235.3L247 235.5L247.2 235.3L247.5 234.4L247.7 235.1L248 234.8L248.2 235.6L248.5 234.6L248.7 234.7L249 234.3L249.2 235L249.5 234.6L249.7 234.7L250 235.3L250.2 234.5L250.5 234.8L250.7 235.8L251 234.3L251.2 234.4L251.5 234.6L251.7 235.2L251.9 233.9L252.2 234L252.4 234.1L252.7 233.7L252.9 234.7L253.2 232.8L253.4 234.2L253.7 234.2L253.9 234.1L254.2 234L254.4 233.8L254.7 233.9L254.9 234L255.2 234.2L255.4 233.7L255.7 234.3L255.9 234.1L256.2 234L256.4 233.8L256.7 234L256.9 234L257.2 232.9L257.4 233.1L257.7 233.3L257.9 233.4L258.2 232.5L258.4 233.2L258.7 233.4L258.9 233.3L259.1 233.1L259.4 232.7L259.6 233.1L259.9 232.2L260.1 232.3L260.4 232.8L260.6 233.5L260.9 230.1L261.1 233L261.4 233.2L261.6 231.4L261.9 232.4L262.1 233.6L262.4 232.9L262.6 233.6L262.9 232.7L263.1 232.7L263.4 232.7L263.6 233.1L263.9 232.6L264.1 233L264.4 232.3L264.6 231.9L264.9 233.4L265.1 232.4L265.4 232.7L265.6 232.1L265.9 232.8L266.1 232.6L266.3 232.8L266.6 231.9L266.8 232L267.1 232.2L267.3 232L267.6 232.2L267.8 232.9L268.1 231.6L268.3 232.1L268.6 232.1L268.8 231.3L269.1 231.3L269.3 232.5L269.6 232.6L269.8 231.1L270.1 231.2L270.3 231.9L270.6 232.7L270.8 232.2L271.1 232.3L271.3 233L271.6 231.9L271.8 232.8L272.1 232.4L272.3 231.3L272.6 232.3L272.8 232.1L273.1 231.5L273.3 231.5L273.5 232.2L273.8 231.6L274 232.1L274.3 231L274.5 231.7L274.8 232.7L275 232.1L275.3 231.6L275.5 231.6L275.8 230.9L276 231.3L276.3 232.4L276.5 231.3L276.8 232.9L277 231.7L277.3 232L277.5 230.5L277.8 232.1L278 233.2L278.3 232.4L278.5 231.8L278.8 232.9L279 232.5L279.3 230.9L279.5 231.9L279.8 230.6L280 232.3L280.3 231.3L280.5 232.5L280.7 232.5L281 232.8L281.2 232.7L281.5 231.7L281.7 232.7L282 232.1L282.2 231.8L282.5 232.3L282.7 231.9L283 233L283.2 231.5L283.5 231.1L283.7 232L284 233.4L284.2 232.9L284.5 231.9L284.7 231.2L285 232.2L285.2 231.8L285.5 232.8L285.7 232.4L286 232.4L286.2 232.4L286.5 233.5L286.7 232L287 232.1L287.2 233.5L287.4 233.6L287.7 232.8L287.9 233.2L288.2 234L288.4 232.2L288.7 233L288.9 233.4L289.2 232.2L289.4 233L289.7 233.7L289.9 233.5L290.2 234.1L290.4 234L290.7 233.3L290.9 233.9L291.2 234L291.4 233.1L291.7 233.6L291.9 233.5L292.2 234L292.4 233.9L292.7 233.7L292.9 234.6L293.2 234.1L293.4 235.5L293.7 235.5L293.9 235.9L294.2 235.5L294.4 235.9L294.6 235.6L294.9 236.5L295.1 236.3L295.4 236.8L295.6 236.9L295.9 237.1L296.1 237L296.4 237.8L296.6 237.4L296.9 237.1L297.1 237.7L297.4 237.8L297.6 238L297.9 237.1L298.1 237.8L298.4 237L298.6 236.8L298.9 236.7L299.1 235.9L299.4 234.3L299.6 232.4L299.9 232.5L300.1 230.7L300.4 228L300.6 227L300.9 223.6L301.1 224.6L301.4 221L301.6 221L301.8 213.5L302.1 214.9L302.3 217L302.6 210.4L302.8 207.2L303.1 202.5L303.3 205.1L303.6 205.9L303.8 206.3L304.1 206.1L304.3 211.2L304.6 211.2L304.8 213.6L305.1 217L305.3 218.5L305.6 219.9L305.8 222.8L306.1 221.1L306.3 225.6L306.6 223.7L306.8 225.4L307.1 227.6L307.3 228L307.6 229.2L307.8 229.3L308.1 229.1L308.3 230L308.6 229.7L308.8 231L309 230.5L309.3 231.8L309.5 230.7L309.8 231.4L310 231.9L310.3 231.3L310.5 231.9L310.8 233.8L311 232.7L311.3 233.8L311.5 232.5L311.8 232.1L312 233.6L312.3 233.7L312.5 233.8L312.8 233.8L313 234.2L313.3 234.1L313.5 235.1L313.8 234.4L314 235.6L314.3 235L314.5 234.7L314.8 235.4L315 236L315.3 236L315.5 235.9L315.8 235.9L316 235.7L316.2 236.6L316.5 236.2L316.7 236.1L317 236.2L317.2 236L317.5 236.1L317.7 236.2L318 236.5L318.2 236.7L318.5 236.3L318.7 237.4L319 236.6L319.2 237.1L319.5 237.2L319.7 237.3L320 237.7L320.2 237.2L320.5 237.5L320.7 237.3L321 237.7L321.2 236.9L321.5 237L321.7 237.5L322 237.7L322.2 236L322.5 237.9L322.7 237.7L322.9 237.2L323.2 237.7L323.4 237.9L323.7 237.7L323.9 237.9L324.2 237.6L324.4 236.8L324.7 237.4L324.9 237.9L325.2 237.8L325.4 238.2L325.7 238.2L325.9 237.9L326.2 237.5L326.4 238.1L326.7 238.1L326.9 237.9L327.2 237.8L327.4 238L327.7 238L327.9 237.9L328.2 237.8L328.4 238L328.7 238.2L328.9 238.4L329.2 238.4L329.4 236.7L329.7 237.6L329.9 238.5L330.1 238.2L330.4 238.1L330.6 238.5L330.9 238.3L331.1 238.4L331.4 238.3L331.6 237.6L331.9 238.7L332.1 238.4L332.4 238.4L332.6 238.5L332.9 238.4L333.1 238.3L333.4 238.6L333.6 238.5L333.9 238.3L334.1 238.8L334.4 238.4L334.6 237.2L334.9 238.2L335.1 238.5L335.4 238.2L335.6 238.7L335.9 238.5L336.1 238.8L336.4 238.6L336.6 238.5L336.9 238.7L337.1 238.7L337.3 238.8L337.6 238.6L337.8 238.8L338.1 239L338.3 238.6L338.6 239L338.8 238.9L339.1 238.9L339.3 238.7L339.6 237.9L339.8 238.7L340.1 239L340.3 238.8L340.6 238.6L340.8 238.6L341.1 238.8L341.3 238.3L341.6 238.9L341.8 238.7L342.1 239L342.3 238.6L342.6 239.1L342.8 238.8L343.1 239.1L343.3 239.1L343.6 238.3L343.8 238.6L344.1 239.1L344.3 239.2L344.5 239.1L344.8 238.9L345 238.7L345.3 237.8L345.5 238.6L345.8 239.1L346 239.1L346.3 239L346.5 238.9L346.8 238.7L347 239L347.3 239.2L347.5 238.9L347.8 239.1L348 239.2L348.3 238.8L348.5 239L348.8 239L349 238.9L349.3 237.4L349.5 239.2L349.8 238.8L350 239L350.3 238.9L350.5 238.9L350.8 239.4L351 239L351.2 238.8L351.5 239L351.7 238.3L352 238.9L352.2 238.9L352.5 238.9L352.7 239.3L353 238L353.2 239.1L353.5 239L353.7 239L354 239.3L354.2 239L354.5 239.1L354.7 239.2L355 239.1L355.2 239.1L355.5 239L355.7 239L356 239.1L356.2 238.4L356.5 239L356.7 239.1L357 239.4L357.2 239.2L357.5 239.1L357.7 238.9L358 239.2L358.2 239.1L358.4 238.9L358.7 239.2L358.9 239.1L359.2 239L359.4 239L359.7 238.8L359.9 239.2L360.2 239.1L360.4 239.1L360.7 238.9L360.9 238.9L361.2 238.8L361.4 239.2L361.7 239L361.9 238.7L362.2 238.8L362.4 239.2L362.7 239.1L362.9 238.7L363.2 238.8L363.4 239.1L363.7 239.3L363.9 239L364.2 239.2L364.4 239.1L364.7 239.3L364.9 238.4L365.2 239.4L365.4 239.3L365.6 238.7L365.9 239.2L366.1 239.3L366.4 239.3L366.6 239.1L366.9 239.3L367.1 236.7L367.4 238.9L367.6 238.9L367.9 239L368.1 239.4L368.4 238.3L368.6 239.6L368.9 239.3L369.1 239.2L369.4 239.1L369.6 239.3L369.9 239.1L370.1 239.1L370.4 239L370.6 238.9L370.9 239.2L371.1 239.1L371.4 239.4L371.6 238.3L371.9 238.8L372.1 239.1L372.4 239.3L372.6 239.1L372.8 239.2L373.1 239.2L373.3 239L373.6 238.6L373.8 238.8L374.1 239.2L374.3 239.3L374.6 239.2L374.8 239.4L375.1 239.4L375.3 239L375.6 239.2L375.8 239.1L376.1 239.3L376.3 239.2L376.6 239L376.8 239.2L377.1 239.1L377.3 239L377.6 239.4L377.8 239.2L378.1 239.2L378.3 239.5L378.6 239.4L378.8 238.7L379.1 239.3L379.3 239.3L379.6 239.2L379.8 239.2L380 239.3L380.3 239.2L380.5 239.3L380.8 239.2L381 238.9L381.3 237.7L381.5 239.2L381.8 239.1L382 238.9L382.3 237.8L382.5 239.2L382.8 239.1L383 238.5L383.3 239.1L383.5 239.3L383.8 239.4L384 238.7L384.3 239.4L384.5 239.1L384.8 239.4L385 239.4L385.3 239.1L385.5 239L385.8 238.5L386 239.2L386.3 239.2L386.5 238.9L386.7 239.2L387 239.1L387.2 239.1L387.5 239.3L387.7 239.3L388 239.2L388.2 239.2L388.5 239L388.7 239.4L389 238.7L389.2 239.3L389.5 239.4L389.7 239.2L390 239.4L390.2 239.6L390.5 239.3L390.7 239.4L391 239.3L391.2 239.3L391.5 239.4L391.7 239.2L392 239.2L392.2 239L392.5 239.1L392.7 239.1L393 239.5L393.2 239.3L393.5 239.1L393.7 238.9L393.9 239.2L394.2 239.5L394.4 239.2L394.7 239.1L394.9 239.4L395.2 239.1L395.4 239.5L395.7 239L395.9 239L396.2 239.4L396.4 239.4L396.7 239.6L396.9 239.3L397.2 239.4L397.4 239L397.7 239.2L397.9 239.2L398.2 239.3L398.4 239L398.4 242.3L398.2 242.2L397.9 242.1L397.7 241.9L397.4 242.1L397.2 242.2L396.9 242.1L396.7 242.2L396.4 242.1L396.2 241.9L395.9 242.2L395.7 242.3L395.4 241.9L395.2 242.1L394.9 241.9L394.7 242.2L394.4 242.1L394.2 242.4L393.9 242.1L393.7 242.1L393.5 241.9L393.2 242.3L393 242L392.7 242L392.5 241.9L392.2 242.1L392 242.1L391.7 242.2L391.5 242.1L391.2 242L391 242.3L390.7 242.3L390.5 242L390.2 242.2L390 242.3L389.7 243L389.5 241.9L389.2 242.3L389 242.2L388.7 242.1L388.5 242.2L388.2 242.1L388 242.2L387.7 242.1L387.5 242.2L387.2 242.3L387 242L386.7 242.1L386.5 242.3L386.3 242.3L386 242.3L385.8 242.4L385.5 242L385.3 242L385 242.1L384.8 241.9L384.5 242.2L384.3 242.2L384 242.1L383.8 242L383.5 242.3L383.3 242.3L383 242.1L382.8 242.1L382.5 242.2L382.3 242.3L382 242.1L381.8 242.1L381.5 242.1L381.3 242.3L381 242L380.8 242.3L380.5 242.3L380.3 242.1L380 242.3L379.8 242.2L379.6 242.2L379.3 242.1L379.1 242.3L378.8 242.1L378.6 242L378.3 242L378.1 242.5L377.8 242.3L377.6 242.2L377.3 242.3L377.1 242L376.8 242.4L376.6 242.1L376.3 242.2L376.1 242.3L375.8 242.2L375.6 242.8L375.3 242.3L375.1 242.3L374.8 243L374.6 242.2L374.3 242L374.1 242.4L373.8 242.2L373.6 242.2L373.3 242.3L373.1 242.2L372.8 242.4L372.6 242.3L372.4 242.3L372.1 242.4L371.9 242.5L371.6 242.2L371.4 242.2L371.1 242.1L370.9 242.2L370.6 242.3L370.4 242.6L370.1 242.3L369.9 242.3L369.6 242.5L369.4 242.3L369.1 244.1L368.9 242.2L368.6 242.3L368.4 242.1L368.1 244.6L367.9 242.3L367.6 242.4L367.4 242.3L367.1 242.1L366.9 242.3L366.6 242.2L366.4 242.4L366.1 242.2L365.9 243.8L365.6 242.1L365.4 242.1L365.2 242L364.9 242.1L364.7 242.3L364.4 242.3L364.2 242.2L363.9 242.3L363.7 242.4L363.4 242.2L363.2 242.6L362.9 242.4L362.7 242.1L362.4 242.1L362.2 242.6L361.9 242.4L361.7 242.2L361.4 242.5L361.2 242.5L360.9 242.5L360.7 242.2L360.4 242.3L360.2 242.4L359.9 242.4L359.7 242.3L359.4 242.3L359.2 242.2L358.9 242.2L358.7 242.3L358.4 242.4L358.2 242.2L358 242.1L357.7 242.2L357.5 242.4L357.2 242.2L357 242.5L356.7 242.4L356.5 242.6L356.2 242.6L356 242.6L355.7 242.5L355.5 242.1L355.2 242.3L355 242.6L354.7 242.2L354.5 242.5L354.2 242.2L354 242.5L353.7 242.2L353.5 242.2L353.2 242.4L353 242.1L352.7 242.4L352.5 242.7L352.2 242.5L352 242.7L351.7 242.2L351.5 242.2L351.2 242.7L351 242.5L350.8 242.8L350.5 242.1L350.3 242.1L350 242.3L349.8 242.5L349.5 242.3L349.3 242.7L349 242.3L348.8 243.8L348.5 242.4L348.3 242.2L348 242.4L347.8 242.2L347.5 242.6L347.3 242.3L347 242.3L346.8 242.6L346.5 242.5L346.3 242.6L346 242.8L345.8 242.3L345.5 242.8L345.3 242.3L345 242.6L344.8 242.4L344.5 242.4L344.3 242.4L344.1 242.4L343.8 242.5L343.6 242.5L343.3 242.3L343.1 242.8L342.8 242.4L342.6 242.5L342.3 242.4L342.1 242.4L341.8 242.6L341.6 242.8L341.3 242.8L341.1 242.7L340.8 242.4L340.6 242.8L340.3 242.9L340.1 242.8L339.8 242.6L339.6 242.7L339.3 242.3L339.1 242.6L338.8 243.3L338.6 243L338.3 242.6L338.1 243.5L337.8 243L337.6 242.9L337.3 242.8L337.1 242.9L336.9 243.2L336.6 243L336.4 242.5L336.1 243.6L335.9 242.5L335.6 243L335.4 242.8L335.1 243L334.9 242.9L334.6 243.1L334.4 242.9L334.1 242.8L333.9 242.9L333.6 242.9L333.4 243L333.1 243.3L332.9 242.9L332.6 243L332.4 243.4L332.1 244L331.9 243.3L331.6 243L331.4 242.9L331.1 243.3L330.9 243.2L330.6 243.2L330.4 243.3L330.1 243.4L329.9 243.6L329.7 243.2L329.4 243.1L329.2 243.4L328.9 243L328.7 243.3L328.4 243.5L328.2 243.9L327.9 243.3L327.7 243.5L327.4 243.6L327.2 243.5L326.9 243.7L326.7 243.4L326.4 243.1L326.2 243L325.9 243.5L325.7 243.7L325.4 243.6L325.2 244.3L324.9 243.7L324.7 244.3L324.4 244L324.2 243.6L323.9 244L323.7 243.8L323.4 245L323.2 243.5L322.9 243.7L322.7 243.9L322.5 243.8L322.2 243.7L322 243.8L321.7 243.6L321.5 244.2L321.2 243.7L321 244L320.7 244.1L320.5 244.2L320.2 243.9L320 244.1L319.7 244.3L319.5 244.5L319.2 244.8L319 244.3L318.7 244.6L318.5 244.6L318.2 244.7L318 244.7L317.7 244.6L317.5 244L317.2 245.4L317 245.2L316.7 245.1L316.5 245.6L316.2 245.2L316 245.7L315.8 245.4L315.5 245.8L315.3 245.8L315 245.8L314.8 245.7L314.5 245L314.3 246.4L314 246.9L313.8 246.7L313.5 247.2L313.3 246.6L313 246.7L312.8 247.4L312.5 247.6L312.3 247.9L312 248.4L311.8 248.7L311.5 247.8L311.3 249.4L311 249.8L310.8 248.8L310.5 248.5L310.3 250.2L310 249.7L309.8 248.6L309.5 252L309.3 250.9L309 251.1L308.8 250.4L308.6 251.2L308.3 252.1L308.1 252.1L307.8 252.6L307.6 252.8L307.3 253.8L307.1 253.2L306.8 256.1L306.6 254.4L306.3 259.5L306.1 258.7L305.8 259.4L305.6 261L305.3 261.7L305.1 265.4L304.8 268.3L304.6 264.6L304.3 274.6L304.1 272.3L303.8 273.5L303.6 273.8L303.3 276.2L303.1 274.7L302.8 276.8L302.6 275.3L302.3 268.5L302.1 265.8L301.8 263.9L301.6 263.8L301.4 260.8L301.1 258.5L300.9 255.5L300.6 254.3L300.4 253.1L300.1 249.8L299.9 250L299.6 248L299.4 246.2L299.1 245.5L298.9 245L298.6 244.2L298.4 244.6L298.1 244.1L297.9 243.9L297.6 243.9L297.4 243.8L297.1 243.9L296.9 244.1L296.6 243.7L296.4 244.3L296.1 244.7L295.9 244.3L295.6 244L295.4 243.9L295.1 244.6L294.9 244.7L294.6 245.4L294.4 245.1L294.2 245.1L293.9 245.5L293.7 246.2L293.4 246.7L293.2 247L292.9 246.1L292.7 246.6L292.4 247.1L292.2 247.5L291.9 247.3L291.7 246.8L291.4 247.6L291.2 248.1L290.9 247.9L290.7 248.2L290.4 246.9L290.2 247.2L289.9 248.3L289.7 247.4L289.4 248.2L289.2 248.8L288.9 248.7L288.7 247.7L288.4 247.9L288.2 247.6L287.9 247.8L287.7 248L287.4 247.8L287.2 248.7L287 248.3L286.7 249.3L286.5 249.4L286.2 248.8L286 249L285.7 249.1L285.5 250.3L285.2 249L285 249.4L284.7 248.7L284.5 249.8L284.2 249.6L284 248.8L283.7 248.4L283.5 250.1L283.2 250.1L283 249L282.7 249.1L282.5 249.9L282.2 250.1L282 249.8L281.7 248.6L281.5 249.6L281.2 248.9L281 249.6L280.7 249.4L280.5 250.3L280.3 249.4L280 248.3L279.8 248.5L279.5 249.2L279.3 249.4L279 249.9L278.8 250.4L278.5 248.5L278.3 249.7L278 248.8L277.8 248.4L277.5 250.1L277.3 249.7L277 250.7L276.8 250L276.5 252L276.3 249.9L276 249.4L275.8 249L275.5 249.6L275.3 249.2L275 249.8L274.8 251.4L274.5 249.1L274.3 250L274 248.7L273.8 250.2L273.5 249.3L273.3 249.9L273.1 250.3L272.8 249.4L272.6 249.3L272.3 248.7L272.1 249.2L271.8 250L271.6 249.4L271.3 249.4L271.1 248.8L270.8 249.1L270.6 248.7L270.3 249.1L270.1 249.2L269.8 248.5L269.6 248.7L269.3 250.2L269.1 248.8L268.8 249.6L268.6 250.2L268.3 248.3L268.1 249.9L267.8 250.1L267.6 249.1L267.3 248.1L267.1 250.2L266.8 249.2L266.6 249.8L266.3 249.3L266.1 248.6L265.9 248.9L265.6 249L265.4 249L265.1 249.2L264.9 249.1L264.6 248.6L264.4 249.4L264.1 249.3L263.9 248.8L263.6 249.4L263.4 248.6L263.1 248.6L262.9 248.2L262.6 248.9L262.4 248L262.1 248.3L261.9 248L261.6 249.2L261.4 247.2L261.1 247.8L260.9 247.2L260.6 248.8L260.4 248.2L260.1 248L259.9 247.6L259.6 247.1L259.4 247.6L259.1 248.1L258.9 248L258.7 248.9L258.4 247.6L258.2 248L257.9 247.9L257.7 247.1L257.4 248L257.2 247.4L256.9 247L256.7 248.4L256.4 247.5L256.2 247.6L255.9 247.5L255.7 247.1L255.4 247.2L255.2 246.6L254.9 247.9L254.7 247.2L254.4 248.2L254.2 247.2L253.9 247.9L253.7 247.4L253.4 247.9L253.2 246.6L252.9 246.8L252.7 247.9L252.4 247.8L252.2 246.9L251.9 246.7L251.7 247.1L251.5 247L251.2 248L251 246.2L250.7 246.1L250.5 247L250.2 246.7L250 247.2L249.7 247.3L249.5 246.3L249.2 246.7L249 247.3L248.7 246.4L248.5 245.5L248.2 246.6L248 245.8L247.7 246.2L247.5 246.5L247.2 245.7L247 245.4L246.7 245.9L246.5 245.8L246.2 246L246 246.5L245.7 245.9L245.5 246.3L245.2 245.9L245 246.2L244.8 245.4L244.5 245.9L244.3 245.8L244 244.8L243.8 245.5L243.5 245.7L243.3 245.9L243 245.1L242.8 245.4L242.5 245.3L242.3 246.1L242 245.2L241.8 245.8L241.5 244.4L241.3 244.8L241 244.8L240.8 245.9L240.5 245.7L240.3 245.5L240 245.3L239.8 244.7L239.5 244.3L239.3 245.6L239 244.6L238.8 244.5L238.5 244.8L238.3 245.2L238 244.2L237.8 244.1L237.6 244.9L237.3 245.2L237.1 244.8L236.8 245L236.6 244.4L236.3 243.7L236.1 244.7L235.8 244.6L235.6 244.5L235.3 244.2L235.1 244.1L234.8 244L234.6 244.3L234.3 243.6L234.1 244.5L233.8 244.1L233.6 244.1L233.3 244.1L233.1 244.4L232.8 244.5L232.6 244.1L232.3 243.9L232.1 243.7L231.8 243.9L231.6 244.1L231.3 243.8L231.1 243.8L230.8 244.2L230.6 244.3L230.4 244.2L230.1 243.9L229.9 243.8L229.6 243.7L229.4 243.5L229.1 244.3L228.9 244.2L228.6 244.6L228.4 243.7L228.1 243.6L227.9 243.7L227.6 243.8L227.4 243.5L227.1 243.4L226.9 243.8L226.6 243.2L226.4 243.6L226.1 243.6L225.9 243.9L225.6 243.6L225.4 244.2L225.1 243.4L224.9 244.4L224.6 243.8L224.4 243.5L224.1 244.1L223.9 243.9L223.6 243.8L223.4 243.8L223.2 243.3L222.9 243.7L222.7 243.2L222.4 244.1L222.2 243.8L221.9 244.3L221.7 244.1L221.4 243.4L221.2 243.2L220.9 243.6L220.7 243.7L220.4 243.2L220.2 243.2L219.9 243.2L219.7 243.3L219.4 243.4L219.2 242.9L218.9 243.3L218.7 243.4L218.4 243.3L218.2 243.1L217.9 243.1L217.7 242.9L217.4 243.3L217.2 243.4L216.9 243L216.7 243.1L216.4 243.5L216.2 243.1L216 243.1L215.7 243.1L215.5 243.9L215.2 242.9L215 243.2L214.7 242.9L214.5 243.2L214.2 243.1L214 243.1L213.7 243.1L213.5 242.6L213.2 243L213 243L212.7 243.1L212.5 242.8L212.2 243.5L212 243.1L211.7 243L211.5 243.4L211.2 243.1L211 242.8L210.7 242.9L210.5 242.9L210.2 242.6L210 243.2L209.7 243L209.5 243.5L209.3 242.9L209 243.2L208.8 242.6L208.5 242.7L208.3 242.8L208 242.6L207.8 242.9L207.5 242.9L207.3 242.9L207 242.7L206.8 242.8L206.5 242.8L206.3 242.5L206 242.5L205.8 242.4L205.5 242.5L205.3 242.6L205 242.5L204.8 242.8L204.5 242.9L204.3 242.4L204 243L203.8 242.7L203.5 242.3L203.3 242.5L203 242.4L202.8 242.9L202.5 244.2L202.3 242.6L202.1 242.7L201.8 243.3L201.6 242.4L201.3 242.7L201.1 242.5L200.8 242.3L200.6 242.4L200.3 242.6L200.1 242.8L199.8 242.3L199.6 242.4L199.3 242.3L199.1 242.2L198.8 242.2L198.6 242.2L198.3 242.4L198.1 242.8L197.8 242.3L197.6 242.5L197.3 242.4L197.1 242L196.8 242.3L196.6 242.2L196.3 242.6L196.1 242.6L195.8 242.3L195.6 242.2L195.3 242.5L195.1 243.2L194.9 242.6L194.6 242.2L194.4 242.4L194.1 242L193.9 242.2L193.6 242.3L193.4 242.2L193.1 242.3L192.9 242.6L192.6 242L192.4 242.3L192.1 242.3L191.9 242.2L191.6 242.3L191.4 242.5L191.1 242.3L190.9 242L190.6 242.1L190.4 242.5L190.1 242.2L189.9 242.6L189.6 242.3L189.4 242.1L189.1 242L188.9 242.1L188.6 242.1L188.4 242.1L188.1 242.6L187.9 242.1L187.7 242L187.4 242.1L187.2 242.3L186.9 242.1L186.7 242.1L186.4 242.1L186.2 242.2L185.9 242.2L185.7 242.2L185.4 242L185.2 242.1L184.9 242L184.7 242L184.4 241.9L184.2 242.2L183.9 242.1L183.7 242.8L183.4 242L183.2 241.9L182.9 242.1L182.7 242L182.4 242.3L182.2 242.3L181.9 242.9L181.7 242L181.4 242.3L181.2 242L181 242.1L180.7 242.1L180.5 242L180.2 242.3L180 243L179.7 241.9L179.5 241.9L179.2 242.1L179 242.1L178.7 242L178.5 241.9L178.2 242.3L178 242.4L177.7 242.3L177.5 242L177.2 242L177 242L176.7 241.8L176.5 242L176.2 241.9L176 242.1L175.7 242L175.5 241.8L175.2 241.8L175 242.1L174.7 242.1L174.5 242.1L174.2 242L174 242.6L173.8 242.1L173.5 242L173.3 241.9L173 242.2L172.8 242L172.5 241.9L172.3 242.1L172 243.9L171.8 242L171.5 241.8L171.3 241.8L171 242.3L170.8 241.9L170.5 242.2L170.3 242.1L170 242L169.8 241.8L169.5 242.1L169.3 242.3L169 241.9L168.8 241.9L168.5 241.9L168.3 241.9L168 241.9L167.8 242.2L167.5 242L167.3 241.9L167 242.1L166.8 241.9L166.6 241.8L166.3 242L166.1 242L165.8 241.8L165.6 242.3L165.3 242L165.1 241.8L164.8 242.7L164.6 241.8L164.3 241.9L164.1 241.9L163.8 241.7L163.6 241.9L163.3 241.8L163.1 241.8L162.8 242.1L162.6 241.9L162.3 242L162.1 241.6L161.8 242.1L161.6 242.2L161.3 242.3L161.1 242L160.8 241.9L160.6 242L160.3 241.9L160.1 241.8L159.8 241.9L159.6 242L159.4 241.8L159.1 242L158.9 241.7L158.6 241.7L158.4 241.8L158.1 241.9L157.9 242L157.6 241.8L157.4 242.8L157.1 241.6L156.9 241.8L156.6 241.8L156.4 241.7L156.1 242.3L155.9 241.8L155.6 242.1L155.4 242.1L155.1 241.5L154.9 242.1L154.6 243.2L154.4 241.6L154.1 242.1L153.9 242.1L153.6 241.8L153.4 241.7L153.1 241.8L152.9 242.1L152.6 242.2L152.4 241.7L152.2 242.3L151.9 241.8L151.7 241.6L151.4 242L151.2 242.1L150.9 241.8L150.7 242.1L150.4 241.9L150.2 241.9L149.9 241.9L149.7 241.9L149.4 241.7L149.2 242.2L148.9 241.8L148.7 241.6L148.4 241.7L148.2 241.6L147.9 242L147.7 242.3L147.4 241.9L147.2 241.8L146.9 242L146.7 241.8L146.4 241.8L146.2 242.3L145.9 242.9L145.7 241.8L145.5 241.8L145.2 241.7L145 241.8L144.7 241.7L144.5 241.7L144.2 241.9L144 241.6L143.7 241.9L143.5 241.8L143.2 242.2L143 241.6L142.7 241.8L142.5 241.6L142.2 241.9L142 242L141.7 241.8L141.5 242L141.2 241.8L141 241.9L140.7 241.7L140.5 241.7L140.2 241.8L140 242L139.7 241.8L139.5 241.9L139.2 241.7L139 241.8L138.7 241.6L138.5 242.1L138.3 241.9L138 241.8L137.8 241.8L137.5 241.6L137.3 242.2L137 241.7L136.8 241.8L136.5 241.8L136.3 241.9L136 241.8L135.8 241.7L135.5 241.8L135.3 241.7L135 242.5L134.8 241.7L134.5 241.8L134.3 241.7L134 241.6L133.8 241.9L133.5 242L133.3 242L133 241.7L132.8 241.8L132.5 241.8L132.3 241.6L132 241.9L131.8 242.1L131.5 241.9L131.3 242L131.1 241.6L130.8 241.7L130.6 241.5L130.3 241.7L130.1 242.2L129.8 241.8L129.6 241.8L129.3 241.6L129.1 241.7L128.8 241.8L128.6 241.9L128.3 241.6L128.1 241.5L127.8 242L127.6 241.8L127.3 241.6L127.1 242L126.8 242L126.6 241.7L126.3 241.9L126.1 241.9L125.8 241.8L125.6 241.5L125.3 241.8L125.1 242.3L124.8 241.9L124.6 241.6L124.3 242L124.1 241.7L123.9 241.6L123.6 242L123.4 241.7L123.1 242.1L122.9 241.5L122.6 241.6L122.4 242L122.1 241.9L121.9 241.9L121.6 241.6L121.4 241.5L121.1 242.8L120.9 241.6L120.6 241.7L120.4 241.8L120.1 241.8L119.9 241.8L119.6 241.7L119.4 241.7L119.1 241.9L118.9 241.7L118.6 241.5L118.4 241.6L118.1 241.6L117.9 241.6L117.6 241.5L117.4 241.7L117.2 241.6L116.9 241.4L116.7 241.6L116.4 241.5L116.2 241.8L115.9 241.6L115.7 241.6L115.4 241.6L115.2 241.6L114.9 241.6L114.7 241.9L114.4 241.5L114.2 241.8L113.9 241.7L113.7 242.1L113.4 242.2L113.2 241.6L112.9 241.6L112.7 241.6L112.4 241.7L112.2 241.6L111.9 241.8L111.7 242.4L111.4 241.9L111.2 241.9L110.9 241.6L110.7 241.7L110.4 241.6L110.2 241.7L110 241.9L109.7 241.5L109.5 241.6L109.2 241.7L109 241.7L108.7 241.6L108.5 241.6L108.2 241.8L108 241.8L107.7 241.8L107.5 241.6L107.2 241.6L107 242.4L106.7 241.4L106.5 241.5L106.2 241.7L106 241.8L105.7 241.9L105.5 241.5L105.2 241.6L105 241.9L104.7 241.7L104.5 241.8L104.2 241.8L104 241.9L103.7 241.6L103.5 241.9L103.2 241.4L103 241.6L102.8 241.5L102.5 241.4L102.3 241.5L102 241.8L101.8 241.7L101.5 241.5L101.3 241.6L101 242L100.8 241.7L100.5 241.5L100.3 241.8L100 242.1L99.8 241.5L99.5 241.5L99.3 241.7L99 241.7L98.8 241.7L98.5 241.6L98.3 241.4L98 241.6L97.8 241.7L97.5 241.6L97.3 241.6L97 241.7L96.8 241.9L96.5 241.5L96.3 241.5L96 241.6L95.8 241.5L95.6 241.7L95.3 241.6L95.1 241.9L94.8 241.8L94.6 241.5L94.3 241.7L94.1 241.8L93.8 241.4L93.6 241.6L93.3 241.5L93.1 241.7L92.8 241.9L92.6 241.5L92.3 242.3L92.1 241.5L91.8 241.5L91.6 241.5L91.3 241.6L91.1 241.9L90.8 241.5L90.6 241.5L90.3 241.9L90.1 241.7L89.8 241.4L89.6 241.6L89.3 241.5L89.1 241.9L88.8 241.6L88.6 242.2L88.4 241.7L88.1 241.5L87.9 241.5L87.6 241.6L87.4 241.7L87.1 241.5L86.9 241.6L86.6 241.5L86.4 241.6L86.1 241.5L85.9 241.7L85.6 241.8L85.4 241.4L85.1 241.8L84.9 241.5L84.6 241.5L84.4 241.6L84.1 241.7L83.9 241.6L83.6 241.4L83.4 241.6L83.1 241.8L82.9 241.5L82.6 241.6L82.4 241.6L82.1 242.5L81.9 241.9L81.7 241.8L81.4 241.5L81.2 242.2L80.9 241.6L80.7 241.4L80.4 241.6L80.2 241.5L79.9 241.6L79.7 241.4L79.4 241.7L79.2 241.5L78.9 242L78.7 241.6L78.4 241.7L78.2 241.6L77.9 241.7L77.7 241.7L77.4 241.5L77.2 241.6L76.9 241.7L76.7 241.8L76.4 241.7L76.2 242.2L75.9 241.5L75.7 241.8L75.4 241.7L75.2 241.6L74.9 241.5L74.7 241.6L74.5 241.8L74.2 241.7L74 241.8L73.7 241.8L73.5 241.6L73.2 241.7L73 241.7L72.7 242L72.5 241.9L72.2 241.6L72 241.8L71.7 241.6L71.5 241.6L71.2 241.4L71 241.5L70.7 241.6L70.5 241.7L70.2 241.5L70 241.6L69.7 241.9L69.5 241.9L69.2 241.4L69 241.5L68.7 241.6L68.5 241.6L68.2 241.6L68 241.4L67.7 241.4L67.5 241.6Z" fill="#0000ff" stroke="#0000ff" stroke-width="0.7" stroke-linejoin="round"/>
</g>
<path d="M298.9 5.7V91.1" stroke="#22dd22" stroke-width="1.6"/>
<path d="M307.2 5.7V91.1" stroke="#22dd22" stroke-width="1.6"/>
<path d="M298.9 101.8V187.1" stroke="#22dd22" stroke-width="1.6"/>
<path d="M307.2 101.8V187.1" stroke="#22dd22" stroke-width="1.6"/>
<path d="M298.9 198.2V283.5" stroke="#22dd22" stroke-width="1.6"/>
<path d="M307.2 198.2V283.5" stroke="#22dd22" stroke-width="1.6"/>
<rect x="67.5" y="6.2" width="331" height="84.4" fill="none" stroke="#575757" stroke-width="1"/>
<rect x="67.5" y="102.3" width="331" height="84.3" fill="none" stroke="#575757" stroke-width="1"/>
<rect x="67.5" y="198.7" width="331" height="84.3" fill="none" stroke="#575757" stroke-width="1"/>
<text x="59.8" y="81.7" font-size="11.2" text-anchor="end" fill="#333333" stroke="#333333" stroke-width="0.25">0</text>
<text x="59.8" y="53.5" font-size="11.2" text-anchor="end" fill="#333333" stroke="#333333" stroke-width="0.25">0.02</text>
<text x="59.8" y="25.3" font-size="11.2" text-anchor="end" fill="#333333" stroke="#333333" stroke-width="0.25">0.04</text>
<text x="60" y="188.2" font-size="11.2" text-anchor="end" fill="#333333" stroke="#333333" stroke-width="0.25">0</text>
<text x="60" y="149.2" font-size="11.2" text-anchor="end" fill="#333333" stroke="#333333" stroke-width="0.25">0.5</text>
<text x="60" y="111" font-size="11.2" text-anchor="end" fill="#333333" stroke="#333333" stroke-width="0.25">1</text>
<text x="60" y="203.9" font-size="11.2" text-anchor="end" fill="#333333" stroke="#333333" stroke-width="0.25">0.2</text>
<text x="60" y="245.9" font-size="11.2" text-anchor="end" fill="#333333" stroke="#333333" stroke-width="0.25">0</text>
<text x="60" y="287.9" font-size="11.2" text-anchor="end" fill="#333333" stroke="#333333" stroke-width="0.25">-0.2</text>
<text x="66.3" y="301.7" font-size="11.2" text-anchor="middle" fill="#333333" stroke="#333333" stroke-width="0.25">0</text>
<text x="107.7" y="301.7" font-size="11.2" text-anchor="middle" fill="#333333" stroke="#333333" stroke-width="0.25">500</text>
<text x="149.1" y="301.7" font-size="11.2" text-anchor="middle" fill="#333333" stroke="#333333" stroke-width="0.25">1000</text>
<text x="190.4" y="301.7" font-size="11.2" text-anchor="middle" fill="#333333" stroke="#333333" stroke-width="0.25">1500</text>
<text x="231.8" y="301.7" font-size="11.2" text-anchor="middle" fill="#333333" stroke="#333333" stroke-width="0.25">2000</text>
<text x="273.2" y="301.7" font-size="11.2" text-anchor="middle" fill="#333333" stroke="#333333" stroke-width="0.25">2500</text>
<text x="314.6" y="301.7" font-size="11.2" text-anchor="middle" fill="#333333" stroke="#333333" stroke-width="0.25">3000</text>
<text x="355.9" y="301.7" font-size="11.2" text-anchor="middle" fill="#333333" stroke="#333333" stroke-width="0.25">3500</text>
<text x="397.3" y="301.7" font-size="11.2" text-anchor="middle" fill="#333333" stroke="#333333" stroke-width="0.25">4000</text>
<text x="231.8" y="320.2" font-size="12.5" text-anchor="middle" fill="#333333" stroke="#333333" stroke-width="0.25" textLength="52.8" lengthAdjust="spacingAndGlyphs">time (ms)</text>
<text x="30.2" y="52" font-size="12" text-anchor="middle" fill="#333333" stroke="#333333" stroke-width="0.25" textLength="86.4" lengthAdjust="spacingAndGlyphs" transform="rotate(-90 30.2 52)">Coil Current (A)</text>
<text x="37.8" y="149.2" font-size="12" text-anchor="middle" fill="#333333" stroke="#333333" stroke-width="0.25" textLength="93" lengthAdjust="spacingAndGlyphs" transform="rotate(-90 37.8 149.2)">Transmission (V)</text>
<text x="33.3" y="245.5" font-size="12" text-anchor="middle" fill="#333333" stroke="#333333" stroke-width="0.25" textLength="73" lengthAdjust="spacingAndGlyphs" transform="rotate(-90 33.3 245.5)">AC Signal (V)</text>
<text x="-0.8" y="16.3" font-size="21.5" text-anchor="start" fill="#333333" font-weight="bold">a</text>
<path d="M573 283v-3.3M573 198.7v3.3M481.7 240.7h3.3M664.3 240.7h-3.3" stroke="#3a3a3a" stroke-width="1" fill="none"/>
<path d="M573 186.6v-3.3M573 102.3v3.3M481.7 183.2h3.3M664.3 183.2h-3.3M481.7 144.2h3.3M664.3 144.2h-3.3M481.7 105.3h3.3M664.3 105.3h-3.3" stroke="#3a3a3a" stroke-width="1" fill="none"/>
<path d="M573 90.6v-3.3M573 6.2v3.3M481.7 76.5h3.3M664.3 76.5h-3.3M481.7 48.3h3.3M664.3 48.3h-3.3M481.7 20.1h3.3M664.3 20.1h-3.3" stroke="#3a3a3a" stroke-width="1" fill="none"/>
<g clip-path="url(#cb1)">
<path d="M481.7 27.4L482.1 35.5L482.4 44.3L482.8 53.3L483.2 61.8L483.5 69.4L483.9 75.5L484.3 79.9L484.6 82.1L485 83.2L485.4 80.8L485.7 76.3L486.1 69.9L486.4 62L486.8 53L487.2 43.6L487.5 34.4L487.9 25.9L488.3 18.7L488.6 13.2L489 9.7L489.4 8.5L489.7 9.7L490.1 13.2L490.5 18.7L490.8 25.9L491.2 34.4L491.6 43.6L491.9 53L492.3 62L492.7 69.9L493 76.3L493.4 80.8L493.8 83.2L494.1 83L494.5 80.8L494.8 76.4L495.2 70.3L495.6 62.8L495.9 54.3L496.3 45.3L496.7 36.5L497 28.4L497.4 21.5L497.8 16.3L498.1 13L498.5 11.9L498.9 13L499.2 16.3L499.6 21.5L500 28.4L500.3 36.5L500.7 45.3L501.1 54.3L501.4 62.8L501.8 70.3L502.2 76.4L502.5 80.8L502.9 83L503.2 81.9L503.6 79.7L504 75.4L504.3 69.4L504.7 61.9L505.1 53.5L505.4 44.7L505.8 36L506.2 28L506.5 21.2L506.9 16L507.3 12.7L507.6 11.6L508 12.7L508.4 16L508.7 21.2L509.1 28L509.5 36L509.8 44.7L510.2 53.5L510.6 61.9L510.9 69.4L511.3 75.4L511.6 79.7L512 81.9L512.4 81.6L512.7 79.4L513.1 75.1L513.5 69.1L513.8 61.5L514.2 53.1L514.6 44.2L514.9 35.5L515.3 27.5L515.7 20.6L516 15.4L516.4 12.1L516.8 11L517.1 12.1L517.5 15.4L517.9 20.6L518.2 27.5L518.6 35.5L519 44.2L519.3 53.1L519.7 61.5L520 69.1L520.4 75.1L520.8 79.4L521.1 81.6L521.5 83.1L521.9 80.8L522.2 76.4L522.6 70.2L523 62.5L523.3 53.8L523.7 44.7L524.1 35.8L524.4 27.5L524.8 20.5L525.2 15.1L525.5 11.8L525.9 10.6L526.3 11.8L526.6 15.1L527 20.5L527.3 27.5L527.7 35.8L528.1 44.7L528.4 53.8L528.8 62.5L529.2 70.2L529.5 76.4L529.9 80.8L530.3 83.1L530.6 83.2L531 81L531.4 76.7L531.7 70.6L532.1 63L532.5 54.5L532.8 45.6L533.2 36.8L533.6 28.7L533.9 21.8L534.3 16.6L534.7 13.3L535 12.2L535.4 13.3L535.7 16.6L536.1 21.8L536.5 28.7L536.8 36.8L537.2 45.6L537.6 54.5L537.9 63L538.3 70.6L538.7 76.7L539 81L539.4 83.2L539.8 82.3L540.1 80.1L540.5 75.7L540.9 69.6L541.2 62.1L541.6 53.6L542 44.7L542.3 35.9L542.7 27.8L543.1 20.9L543.4 15.7L543.8 12.4L544.1 11.2L544.5 12.4L544.9 15.7L545.2 20.9L545.6 27.8L546 35.9L546.3 44.7L546.7 53.6L547.1 62.1L547.4 69.6L547.8 75.7L548.2 80.1L548.5 82.3L548.9 82.5L549.3 80.3L549.6 76L550 69.9L550.4 62.3L550.7 53.8L551.1 44.9L551.5 36.1L551.8 28L552.2 21.2L552.5 15.9L552.9 12.6L553.3 11.5L553.6 12.6L554 15.9L554.4 21.2L554.7 28L555.1 36.1L555.5 44.9L555.8 53.8L556.2 62.3L556.6 69.9L556.9 76L557.3 80.3L557.7 82.5L558 83.1L558.4 80.9L558.8 76.6L559.1 70.5L559.5 62.9L559.9 54.4L560.2 45.5L560.6 36.7L560.9 28.6L561.3 21.7L561.7 16.5L562 13.2L562.4 12.1L562.8 13.2L563.1 16.5L563.5 21.7L563.9 28.6L564.2 36.7L564.6 45.5L565 54.4L565.3 62.9L565.7 70.5L566.1 76.6L566.4 80.9L566.8 83.1L567.2 82.3L567.5 80.1L567.9 75.8L568.3 69.7L568.6 62.1L569 53.6L569.3 44.7L569.7 36L570.1 27.9L570.4 21.1L570.8 15.8L571.2 12.5L571.5 11.4L571.9 12.5L572.3 15.8L572.6 21.1L573 27.9L573.4 36L573.7 44.7L574.1 53.6L574.5 62.1L574.8 69.7L575.2 75.8L575.6 80.1L575.9 82.3L576.3 82.3L576.7 80.1L577 75.8L577.4 69.8L577.7 62.3L578.1 53.9L578.5 45.1L578.8 36.4L579.2 28.4L579.6 21.6L579.9 16.4L580.3 13.1L580.7 12L581 13.1L581.4 16.4L581.8 21.6L582.1 28.4L582.5 36.4L582.9 45.1L583.2 53.9L583.6 62.3L584 69.8L584.3 75.8L584.7 80.1L585.1 82.3L585.4 82.6L585.8 80.4L586.1 76.1L586.5 70L586.9 62.4L587.2 53.9L587.6 45L588 36.2L588.3 28.1L588.7 21.2L589.1 16L589.4 12.7L589.8 11.6L590.2 12.7L590.5 16L590.9 21.2L591.3 28.1L591.6 36.2L592 45L592.4 53.9L592.7 62.4L593.1 70L593.5 76.1L593.8 80.4L594.2 82.6L594.5 80.7L594.9 78.6L595.3 74.6L595.6 68.9L596 61.9L596.4 53.9L596.7 45.6L597.1 37.4L597.5 29.9L597.8 23.5L598.2 18.6L598.6 15.5L598.9 14.5L599.3 15.5L599.7 18.6L600 23.5L600.4 29.9L600.8 37.4L601.1 45.6L601.5 53.9L601.9 61.9L602.2 68.9L602.6 74.6L602.9 78.6L603.3 80.7L603.7 81.7L604 79.5L604.4 75.3L604.8 69.2L605.1 61.7L605.5 53.2L605.9 44.4L606.2 35.6L606.6 27.6L607 20.7L607.3 15.5L607.7 12.2L608.1 11.1L608.4 12.2L608.8 15.5L609.2 20.7L609.5 27.6L609.9 35.6L610.3 44.4L610.6 53.2L611 61.7L611.3 69.2L611.7 75.3L612.1 79.5L612.4 81.7L612.8 82.1L613.2 79.9L613.5 75.6L613.9 69.5L614.3 61.9L614.6 53.4L615 44.5L615.4 35.7L615.7 27.6L616.1 20.7L616.5 15.4L616.8 12.1L617.2 11L617.6 12.1L617.9 15.4L618.3 20.7L618.6 27.6L619 35.7L619.4 44.5L619.7 53.4L620.1 61.9L620.5 69.5L620.8 75.6L621.2 79.9L621.6 82.1L621.9 82L622.3 79.8L622.7 75.5L623 69.4L623.4 61.8L623.8 53.3L624.1 44.4L624.5 35.7L624.9 27.6L625.2 20.7L625.6 15.5L626 12.2L626.3 11.1L626.7 12.2L627 15.5L627.4 20.7L627.8 27.6L628.1 35.7L628.5 44.4L628.9 53.3L629.2 61.8L629.6 69.4L630 75.5L630.3 79.8L630.7 82L631.1 80.6L631.4 78.5L631.8 74.3L632.2 68.3L632.5 60.9L632.9 52.6L633.3 43.9L633.6 35.3L634 27.4L634.4 20.6L634.7 15.5L635.1 12.3L635.4 11.2L635.8 12.3L636.2 15.5L636.5 20.6L636.9 27.4L637.3 35.3L637.6 43.9L638 52.6L638.4 60.9L638.7 68.3L639.1 74.3L639.5 78.5L639.8 80.6L640.2 81.9L640.6 79.7L640.9 75.4L641.3 69.3L641.7 61.7L642 53.3L642.4 44.3L642.8 35.6L643.1 27.5L643.5 20.6L643.8 15.4L644.2 12.1L644.6 10.9L644.9 12.1L645.3 15.4L645.7 20.6L646 27.5L646.4 35.6L646.8 44.3L647.1 53.3L647.5 61.7L647.9 69.3L648.2 75.4L648.6 79.7L649 81.9L649.3 83.2L649.7 81L650.1 76.9L650.4 70.9L650.8 63.6L651.2 55.4L651.5 46.8L651.9 38.3L652.2 30.5L652.6 23.8L653 18.7L653.3 15.5L653.7 14.5L654.1 15.5L654.4 18.7L654.8 23.8L655.2 30.5L655.5 38.3L655.9 46.8L656.3 55.4L656.6 63.6L657 70.9L657.4 76.9L657.7 81L658.1 83.2L658.5 82.4L658.8 80.2L659.2 75.7L659.6 69.4L659.9 61.6L660.3 52.8L660.6 43.6L661 34.5L661.4 26.2L661.7 19.1L662.1 13.7L662.5 10.3L662.8 9.1L663.2 10.3L663.6 13.7L663.9 19.1L664.3 26.2" fill="none" stroke="#1212d8" stroke-width="1" stroke-linejoin="round"/>
</g>
<g clip-path="url(#cb2)">
<path d="M481.4 180.9L481.7 180.8L482 180.6L482.3 180.3L482.6 179.9L482.9 179.4L483.2 178.8L483.5 178.2L483.8 177.6L484.1 177L484.4 176.4L484.7 175.9L485 175.5L485.3 175.2L485.6 175L485.9 174.9L486.2 175L486.5 175.2L486.8 175.5L487.2 175.9L487.5 176.5L487.8 177L488.1 177.7L488.4 178.3L488.7 178.8L489 179.4L489.4 179.8L489.7 180.1L490 180.3L490.3 180.4L490.6 180.3L490.9 180.1L491.2 179.6L491.6 179.1L491.9 178.4L492.2 177.7L492.5 176.9L492.8 176.1L493.1 175.4L493.4 174.7L493.8 174.2L494.1 173.7L494.4 173.5L494.7 173.4L495 173.5L495.3 173.8L495.6 174.2L496 174.8L496.3 175.5L496.6 176.2L496.9 177L497.2 177.9L497.5 178.6L497.8 179.3L498.2 179.9L498.5 180.3L498.8 180.6L499.1 180.7L499.4 180.6L499.7 180.4L500.1 179.9L500.4 179.4L500.7 178.7L501 178L501.3 177.2L501.7 176.3L502 175.5L502.3 174.8L502.6 174.1L502.9 173.6L503.3 173.1L503.6 172.9L503.9 172.8L504.2 172.9L504.5 173.2L504.8 173.6L505.2 174.2L505.5 175L505.8 175.8L506.1 176.6L506.4 177.4L506.7 178.2L507 179L507.4 179.6L507.7 180L508 180.3L508.3 180.4L508.6 180.3L508.9 180.1L509.2 179.7L509.5 179.1L509.8 178.4L510.1 177.7L510.4 176.9L510.8 176L511.1 175.1L511.4 174.3L511.7 173.6L512 172.9L512.3 172.3L512.6 171.9L512.9 171.7L513.2 171.6L513.5 171.7L513.8 172L514.1 172.4L514.5 173L514.8 173.7L515.1 174.5L515.4 175.3L515.7 176.1L516 176.9L516.3 177.6L516.7 178.2L517 178.6L517.3 178.9L517.6 179L517.9 178.9L518.2 178.5L518.6 177.8L518.9 177L519.2 175.9L519.5 174.8L519.8 173.5L520.2 172.2L520.5 170.9L520.8 169.8L521.1 168.7L521.4 167.9L521.8 167.2L522.1 166.8L522.4 166.7L522.7 166.8L523 167.2L523.3 167.7L523.6 168.4L523.9 169.3L524.2 170.3L524.5 171.4L524.8 172.5L525.1 173.6L525.4 174.6L525.7 175.5L526 176.2L526.3 176.7L526.6 177.1L526.9 177.2L527.2 177L527.5 176.5L527.8 175.7L528.2 174.7L528.5 173.4L528.8 172L529.1 170.4L529.4 168.9L529.7 167.5L530 166.2L530.4 165.2L530.7 164.4L531 163.9L531.3 163.7L531.6 163.8L531.9 164.2L532.2 164.8L532.5 165.5L532.8 166.5L533.1 167.6L533.4 168.8L533.7 170L534 171.2L534.3 172.4L534.6 173.5L534.9 174.5L535.2 175.2L535.5 175.8L535.8 176.2L536.1 176.3L536.4 176.1L536.7 175.6L537 174.8L537.4 173.7L537.7 172.3L538 170.9L538.3 169.3L538.6 167.7L538.9 166.3L539.2 164.9L539.6 163.8L539.9 163L540.2 162.5L540.5 162.3L540.8 162.4L541.1 162.9L541.5 163.6L541.8 164.5L542.1 165.6L542.4 166.9L542.7 168.2L543.1 169.6L543.4 170.9L543.7 172.2L544 173.3L544.3 174.2L544.7 174.9L545 175.4L545.3 175.5L545.6 175.3L545.9 174.8L546.2 174L546.5 172.8L546.8 171.5L547.1 169.9L547.4 168.2L547.7 166.6L548 164.9L548.3 163.4L548.6 162L548.9 160.8L549.2 160L549.5 159.5L549.8 159.3L550.1 159.5L550.4 160.1L550.7 161L551 162.2L551.3 163.6L551.6 165.2L552 166.9L552.3 168.7L552.6 170.3L552.9 171.7L553.2 172.9L553.5 173.8L553.8 174.4L554.1 174.6L554.4 174.4L554.7 173.8L555 172.7L555.3 171.4L555.6 169.7L555.9 167.8L556.2 165.7L556.5 163.6L556.9 161.5L557.2 159.4L557.5 157.5L557.8 155.8L558.1 154.5L558.4 153.4L558.7 152.8L559 152.6L559.3 152.8L559.6 153.4L559.9 154.3L560.3 155.5L560.6 157L560.9 158.7L561.2 160.5L561.5 162.3L561.8 164.1L562.1 165.8L562.4 167.3L562.8 168.5L563.1 169.4L563.4 170L563.7 170.2L564 170L564.3 169.2L564.6 168.1L564.9 166.6L565.2 164.7L565.5 162.6L565.8 160.3L566.1 158.1L566.4 155.8L566.7 153.7L567 151.8L567.3 150.3L567.6 149.2L567.9 148.4L568.2 148.2L568.5 148.4L568.8 149L569.1 150.1L569.4 151.4L569.7 153.1L570 154.9L570.3 156.9L570.7 159L571 161L571.3 162.8L571.6 164.5L571.9 165.8L572.2 166.9L572.5 167.5L572.8 167.7L573.1 167.5L573.4 166.7L573.7 165.5L574 163.9L574.3 162L574.6 159.9L574.9 157.5L575.2 155.2L575.5 152.8L575.8 150.7L576.1 148.8L576.4 147.2L576.7 146L577 145.2L577.3 145L577.6 145.2L577.9 146L578.2 147.1L578.6 148.7L578.9 150.5L579.2 152.5L579.5 154.7L579.8 156.9L580.1 158.9L580.4 160.7L580.8 162.3L581.1 163.4L581.4 164.2L581.7 164.4L582 164.1L582.3 163.3L582.7 162.1L583 160.3L583.3 158.3L583.6 155.9L583.9 153.4L584.3 150.9L584.6 148.4L584.9 146L585.2 144L585.5 142.2L585.9 141L586.2 140.2L586.5 139.9L586.8 140.1L587.1 140.8L587.4 141.9L587.8 143.4L588.1 145.1L588.4 147.1L588.7 149.2L589 151.2L589.3 153.2L589.6 154.9L590 156.4L590.3 157.5L590.6 158.2L590.9 158.4L591.2 158.2L591.5 157.4L591.8 156.3L592.2 154.7L592.5 152.8L592.8 150.6L593.1 148.3L593.4 146L593.7 143.7L594 141.5L594.3 139.6L594.7 138L595 136.9L595.3 136.1L595.6 135.9L595.9 136.1L596.2 136.6L596.5 137.5L596.9 138.6L597.2 140L597.5 141.5L597.8 143.1L598.1 144.7L598.4 146.2L598.7 147.6L599.1 148.7L599.4 149.6L599.7 150.1L600 150.3L600.3 150.1L600.6 149.5L600.9 148.6L601.2 147.3L601.5 145.8L601.8 144.1L602.1 142.2L602.5 140.4L602.8 138.5L603.1 136.8L603.4 135.3L603.7 134L604 133.1L604.3 132.5L604.6 132.3L604.9 132.5L605.2 132.9L605.5 133.6L605.8 134.6L606.1 135.8L606.4 137.1L606.7 138.5L607.1 139.9L607.4 141.3L607.7 142.7L608 143.8L608.3 144.8L608.6 145.5L608.9 145.9L609.2 146.1L609.5 145.9L609.8 145.4L610.1 144.6L610.4 143.5L610.7 142.1L611 140.6L611.3 139L611.7 137.3L612 135.7L612.3 134.2L612.6 132.8L612.9 131.7L613.2 130.9L613.5 130.4L613.8 130.2L614.1 130.4L614.4 130.8L614.7 131.6L615.1 132.6L615.4 133.9L615.7 135.3L616 136.7L616.3 138.1L616.6 139.5L616.9 140.8L617.3 141.8L617.6 142.6L617.9 143L618.2 143.2L618.5 143L618.8 142.5L619.1 141.7L619.5 140.7L619.8 139.4L620.1 137.9L620.4 136.3L620.7 134.8L621 133.2L621.3 131.7L621.6 130.4L622 129.4L622.3 128.6L622.6 128.1L622.9 127.9L623.2 128L623.5 128.4L623.8 129.1L624.2 129.9L624.5 130.9L624.8 132L625.1 133.2L625.4 134.4L625.7 135.5L626 136.5L626.4 137.3L626.7 138L627 138.4L627.3 138.5L627.6 138.4L627.9 138L628.2 137.4L628.5 136.6L628.8 135.6L629.1 134.4L629.4 133.2L629.7 131.9L630 130.6L630.3 129.4L630.6 128.2L630.9 127.2L631.2 126.4L631.5 125.8L631.8 125.4L632.1 125.3L632.4 125.4L632.7 125.9L633.1 126.5L633.4 127.4L633.7 128.4L634 129.6L634.4 130.7L634.7 131.9L635 132.9L635.3 133.8L635.7 134.4L636 134.9L636.3 135L636.6 134.9L636.9 134.6L637.2 134.1L637.5 133.4L637.8 132.5L638.1 131.6L638.4 130.5L638.7 129.5L639 128.4L639.3 127.3L639.6 126.4L639.9 125.5L640.2 124.8L640.5 124.3L640.8 124L641.1 123.9L641.4 124L641.7 124.4L642 124.9L642.4 125.7L642.7 126.5L643 127.5L643.3 128.5L643.6 129.6L643.9 130.6L644.2 131.4L644.6 132.2L644.9 132.7L645.2 133.1L645.5 133.2L645.8 133.1L646.1 132.8L646.4 132.2L646.8 131.5L647.1 130.7L647.4 129.7L647.7 128.6L648 127.6L648.3 126.5L648.6 125.5L648.9 124.7L649.3 124L649.6 123.4L649.9 123.1L650.2 123L650.5 123.1L650.8 123.4L651.1 123.9L651.5 124.5L651.8 125.3L652.1 126.1L652.4 127L652.7 128L653 128.8L653.3 129.6L653.7 130.2L654 130.7L654.3 131L654.6 131.1L654.9 131L655.2 130.7L655.5 130.3L655.8 129.7L656.1 129L656.4 128.2L656.7 127.4L657 126.5L657.4 125.5L657.7 124.7L658 123.9L658.3 123.2L658.6 122.6L658.9 122.2L659.2 121.9L659.5 121.8L659.8 121.9L660.1 122L660.4 122.4L660.7 122.8L661 123.3L661.3 123.9L661.6 124.5L661.9 125.2L662.2 125.8L662.5 126.5L662.8 127.1L663.1 127.7L663.4 128.2L663.7 128.6L664 129L664.3 129.1L664.6 129.2" fill="none" stroke="#1212d8" stroke-width="1" stroke-linejoin="round"/>
</g>
<g clip-path="url(#cb3)">
<path d="M481.2 247.8L481.5 247.6L481.8 246.8L482.1 245.7L482.5 244.2L482.8 242.3L483.1 240.3L483.4 238.2L483.7 236L484 234L484.3 232.1L484.7 230.6L485 229.5L485.3 228.7L485.6 228.5L485.9 228.7L486.2 229.4L486.5 230.5L486.9 231.9L487.2 233.7L487.5 235.7L487.8 237.8L488.1 239.9L488.4 242L488.7 244L489 245.8L489.4 247.2L489.7 248.3L490 249L490.3 249.2L490.6 248.9L490.9 248L491.2 246.6L491.6 244.7L491.9 242.5L492.2 240L492.5 237.3L492.8 234.7L493.1 232.2L493.4 230L493.8 228.1L494.1 226.7L494.4 225.8L494.7 225.5L495 225.8L495.3 226.5L495.6 227.7L495.9 229.3L496.2 231.3L496.5 233.6L496.8 236L497.1 238.6L497.4 241.2L497.7 243.6L498 245.9L498.3 247.9L498.6 249.5L498.9 250.7L499.2 251.4L499.5 251.7L499.8 251.4L500.1 250.4L500.4 248.8L500.8 246.8L501.1 244.3L501.4 241.5L501.7 238.6L502 235.7L502.3 232.9L502.6 230.4L503 228.4L503.3 226.8L503.6 225.8L503.9 225.5L504.2 225.8L504.5 226.6L504.8 227.9L505.1 229.7L505.4 231.8L505.7 234.3L506 237L506.4 239.8L506.7 242.5L507 245.2L507.3 247.7L507.6 249.8L507.9 251.6L508.2 252.9L508.5 253.7L508.8 254L509.1 253.7L509.4 252.6L509.7 251L510.1 248.9L510.4 246.3L510.7 243.4L511 240.3L511.3 237.3L511.6 234.4L511.9 231.8L512.3 229.7L512.6 228.1L512.9 227L513.2 226.7L513.5 227.1L513.8 228.2L514.1 229.9L514.5 232.2L514.8 235L515.1 238.1L515.4 241.4L515.7 244.7L516 247.8L516.3 250.6L516.7 252.9L517 254.6L517.3 255.7L517.6 256.1L517.9 255.7L518.2 254.5L518.5 252.6L518.8 250L519.1 246.9L519.4 243.4L519.7 239.6L520.1 235.8L520.4 232L520.7 228.5L521 225.4L521.3 222.8L521.6 220.9L521.9 219.7L522.2 219.3L522.5 219.7L522.8 221L523.1 223.1L523.4 225.9L523.7 229.3L524 233.1L524.3 237.2L524.7 241.4L525 245.5L525.3 249.3L525.6 252.7L525.9 255.5L526.2 257.6L526.5 258.9L526.8 259.3L527.1 258.8L527.4 257.4L527.7 255.1L528 252.1L528.3 248.4L528.6 244.2L528.9 239.7L529.2 235.2L529.5 230.7L529.8 226.5L530.1 222.8L530.4 219.8L530.7 217.5L531 216.1L531.3 215.6L531.6 216.2L531.9 217.9L532.2 220.7L532.6 224.4L532.9 228.8L533.2 233.8L533.5 238.9L533.8 244.1L534.1 249.1L534.4 253.5L534.8 257.2L535.1 260L535.4 261.7L535.7 262.3L536 261.8L536.3 260.3L536.7 257.8L537 254.5L537.3 250.5L537.6 246L537.9 241.2L538.3 236.3L538.6 231.5L538.9 227L539.2 223L539.5 219.7L539.9 217.2L540.2 215.7L540.5 215.2L540.8 215.8L541.1 217.6L541.4 220.5L541.8 224.4L542.1 229.1L542.4 234.2L542.7 239.7L543 245.2L543.3 250.3L543.6 255L544 258.9L544.3 261.8L544.6 263.6L544.9 264.2L545.2 263.7L545.5 262.2L545.8 259.8L546.1 256.6L546.4 252.7L546.7 248.2L547 243.3L547.3 238.2L547.7 233.2L548 228.3L548.3 223.8L548.6 219.9L548.9 216.7L549.2 214.3L549.5 212.8L549.8 212.3L550.1 213L550.4 215.1L550.7 218.5L551 223L551.3 228.3L551.6 234.3L552 240.6L552.3 246.9L552.6 252.9L552.9 258.2L553.2 262.7L553.5 266.1L553.8 268.2L554.1 268.9L554.4 268.3L554.7 266.5L555 263.5L555.3 259.5L555.6 254.6L555.9 249.1L556.2 243.1L556.5 236.8L556.9 230.5L557.2 224.5L557.5 219L557.8 214.1L558.1 210.1L558.4 207.1L558.7 205.3L559 204.7L559.3 205.4L559.6 207.6L559.9 211.1L560.3 215.8L560.6 221.4L560.9 227.8L561.2 234.7L561.5 241.6L561.8 248.5L562.1 254.9L562.4 260.5L562.8 265.2L563.1 268.7L563.4 270.9L563.7 271.6L564 270.8L564.3 268.3L564.6 264.4L565 259.2L565.3 252.9L565.6 245.9L565.9 238.6L566.2 231.3L566.5 224.3L566.8 218L567.2 212.8L567.5 208.9L567.8 206.4L568.1 205.6L568.4 206.5L568.7 209.1L569 213.3L569.4 218.9L569.7 225.5L570 233L570.3 240.8L570.6 248.6L570.9 256.1L571.2 262.7L571.6 268.3L571.9 272.5L572.2 275.1L572.5 276L572.8 275.2L573.1 273L573.5 269.4L573.8 264.6L574.1 258.8L574.4 252.2L574.7 245.2L575.1 238L575.4 231L575.7 224.4L576 218.6L576.3 213.8L576.7 210.2L577 208L577.3 207.2L577.6 208.1L577.9 210.7L578.2 214.9L578.5 220.5L578.8 227.2L579.1 234.6L579.5 242.4L579.8 250.3L580.1 257.7L580.4 264.4L580.7 270L581 274.2L581.3 276.8L581.6 277.7L581.9 276.9L582.2 274.6L582.5 270.8L582.9 265.8L583.2 259.8L583.5 252.9L583.8 245.6L584.1 238L584.4 230.7L584.7 223.9L585 217.8L585.4 212.8L585.7 209L586 206.7L586.3 205.9L586.6 206.7L586.9 209.3L587.2 213.3L587.6 218.7L587.9 225.1L588.2 232.3L588.5 239.8L588.8 247.3L589.1 254.5L589.4 260.9L589.8 266.3L590.1 270.3L590.4 272.9L590.7 273.7L591 273L591.3 271L591.7 267.8L592 263.4L592.3 258.1L592.6 252.2L592.9 245.8L593.3 239.3L593.6 232.9L593.9 227L594.2 221.7L594.5 217.3L594.9 214.1L595.2 212.1L595.5 211.4L595.8 212.1L596.1 214.1L596.4 217.4L596.8 221.8L597.1 227.1L597.4 232.9L597.7 239.1L598 245.3L598.3 251.1L598.6 256.4L599 260.8L599.3 264.1L599.6 266.1L599.9 266.8L600.2 266.2L600.5 264.5L600.8 261.8L601.2 258.2L601.5 253.8L601.8 248.8L602.1 243.5L602.4 238L602.7 232.7L603 227.7L603.3 223.3L603.7 219.7L604 217L604.3 215.3L604.6 214.7L604.9 215.3L605.2 217.2L605.5 220.2L605.9 224.2L606.2 229.1L606.5 234.4L606.8 240L607.1 245.7L607.4 251L607.7 255.9L608.1 259.9L608.4 262.9L608.7 264.8L609 265.4L609.3 264.9L609.6 263.3L609.9 260.9L610.2 257.5L610.5 253.5L610.8 249L611.1 244.1L611.5 239.2L611.8 234.3L612.1 229.8L612.4 225.8L612.7 222.4L613 220L613.3 218.4L613.6 217.9L613.9 218.4L614.2 220L614.5 222.5L614.8 225.8L615.1 229.9L615.4 234.4L615.7 239.3L616.1 244.4L616.4 249.3L616.7 253.8L617 257.9L617.3 261.2L617.6 263.7L617.9 265.3L618.2 265.8L618.5 265.3L618.8 263.8L619.1 261.3L619.4 258L619.7 254.1L620 249.6L620.3 244.8L620.7 239.8L621 235L621.3 230.6L621.6 226.6L621.9 223.3L622.2 220.8L622.5 219.3L622.8 218.8L623.1 219.3L623.4 220.6L623.7 222.8L624 225.7L624.3 229.2L624.6 233.2L624.9 237.5L625.2 241.8L625.5 246.1L625.8 250.1L626.1 253.6L626.4 256.5L626.7 258.7L627 260L627.3 260.5L627.6 260.1L627.9 258.8L628.2 256.9L628.5 254.2L628.8 251L629.1 247.3L629.4 243.4L629.8 239.4L630.1 235.5L630.4 231.9L630.7 228.6L631 225.9L631.3 224L631.6 222.7L631.9 222.3L632.2 222.7L632.5 224.1L632.8 226.2L633.2 229L633.5 232.4L633.8 236.1L634.1 240.1L634.4 244.1L634.7 247.8L635 251.2L635.4 254L635.7 256.1L636 257.5L636.3 257.9L636.6 257.6L636.9 256.6L637.2 255L637.5 252.9L637.8 250.4L638.1 247.4L638.4 244.3L638.7 240.9L639 237.6L639.3 234.5L639.6 231.5L639.9 229L640.2 226.9L640.5 225.3L640.8 224.3L641.1 224L641.4 224.4L641.7 225.7L642 227.8L642.4 230.5L642.7 233.7L643 237.4L643.3 241.2L643.6 245L643.9 248.7L644.2 251.9L644.6 254.6L644.9 256.7L645.2 258L645.5 258.4L645.8 258L646.1 257L646.4 255.3L646.8 253.1L647.1 250.4L647.4 247.3L647.7 244L648 240.7L648.3 237.4L648.6 234.3L648.9 231.6L649.3 229.4L649.6 227.7L649.9 226.7L650.2 226.3L650.5 226.7L650.8 227.7L651.1 229.5L651.5 231.8L651.8 234.5L652.1 237.6L652.4 240.8L652.7 244.1L653 247.2L653.3 249.9L653.7 252.2L654 254L654.3 255L654.6 255.4L654.9 255.1L655.2 254.2L655.6 252.7L655.9 250.8L656.2 248.5L656.5 245.8L656.8 243L657.2 240L657.5 237.2L657.8 234.6L658.1 232.2L658.4 230.3L658.8 228.8L659.1 227.9L659.4 227.6L659.7 227.8L660 228.5L660.3 229.6L660.6 231.1L660.9 232.9L661.2 235L661.5 237.3L661.8 239.7L662.2 242.1L662.5 244.5L662.8 246.8L663.1 248.9L663.4 250.7L663.7 252.2L664 253.3L664.3 254L664.6 254.2" fill="none" stroke="#1212d8" stroke-width="1" stroke-linejoin="round"/>
</g>
<rect x="481.7" y="6.2" width="182.6" height="84.4" fill="none" stroke="#575757" stroke-width="1"/>
<rect x="481.7" y="102.3" width="182.6" height="84.3" fill="none" stroke="#575757" stroke-width="1"/>
<rect x="481.7" y="198.7" width="182.6" height="84.3" fill="none" stroke="#575757" stroke-width="1"/>
<text x="473" y="81.8" font-size="11.2" text-anchor="end" fill="#333333" stroke="#333333" stroke-width="0.25">0</text>
<text x="473" y="53.6" font-size="11.2" text-anchor="end" fill="#333333" stroke="#333333" stroke-width="0.25">0.02</text>
<text x="473" y="25.4" font-size="11.2" text-anchor="end" fill="#333333" stroke="#333333" stroke-width="0.25">0.04</text>
<text x="473" y="188.4" font-size="11.2" text-anchor="end" fill="#333333" stroke="#333333" stroke-width="0.25">0</text>
<text x="473" y="149.4" font-size="11.2" text-anchor="end" fill="#333333" stroke="#333333" stroke-width="0.25">0.5</text>
<text x="473" y="110.5" font-size="11.2" text-anchor="end" fill="#333333" stroke="#333333" stroke-width="0.25">1</text>
<text x="473.5" y="203.9" font-size="11.2" text-anchor="end" fill="#333333" stroke="#333333" stroke-width="0.25">0.2</text>
<text x="473.5" y="245.9" font-size="11.2" text-anchor="end" fill="#333333" stroke="#333333" stroke-width="0.25">0</text>
<text x="473.5" y="287.9" font-size="11.2" text-anchor="end" fill="#333333" stroke="#333333" stroke-width="0.25">-0.2</text>
<text x="480.5" y="301.7" font-size="11.2" text-anchor="middle" fill="#333333" stroke="#333333" stroke-width="0.25">2800</text>
<text x="571.8" y="301.7" font-size="11.2" text-anchor="middle" fill="#333333" stroke="#333333" stroke-width="0.25">2850</text>
<text x="663.1" y="301.7" font-size="11.2" text-anchor="middle" fill="#333333" stroke="#333333" stroke-width="0.25">2900</text>
<text x="571.7" y="320.2" font-size="12.5" text-anchor="middle" fill="#333333" stroke="#333333" stroke-width="0.25" textLength="52.8" lengthAdjust="spacingAndGlyphs">time (ms)</text>
<text x="443.9" y="52.3" font-size="12" text-anchor="middle" fill="#333333" stroke="#333333" stroke-width="0.25" textLength="86.4" lengthAdjust="spacingAndGlyphs" transform="rotate(-90 443.9 52.3)">Coil Current (A)</text>
<text x="451.6" y="149.4" font-size="12" text-anchor="middle" fill="#333333" stroke="#333333" stroke-width="0.25" textLength="93" lengthAdjust="spacingAndGlyphs" transform="rotate(-90 451.6 149.4)">Transmission (V)</text>
<text x="446.8" y="245" font-size="12" text-anchor="middle" fill="#333333" stroke="#333333" stroke-width="0.25" textLength="71" lengthAdjust="spacingAndGlyphs" transform="rotate(-90 446.8 245)">AC signal (V)</text>
<text x="410.6" y="16.2" font-size="21.5" text-anchor="start" fill="#333333" font-weight="bold">b</text>
<path d="M173.3 335.5V482M262.7 335.5V482M352 335.5V482M441.3 335.5V482M530.6 335.5V482M620 335.5V482M84 370.1H642.3M84 404.6H642.3M84 439.2H642.3M84 473.7H642.3" stroke="#dedede" stroke-width="1" fill="none"/>
<g clip-path="url(#cc)">
<path d="M84 413.9L84.2 417.8L84.4 412.2L84.5 417.6L84.7 416.8L84.9 418.1L85.1 421.2L85.3 419.6L85.4 420.1L85.6 421.5L85.8 424.3L86 425.4L86.1 425.4L86.3 427.9L86.5 430.5L86.7 433L86.9 429.8L87 439.1L87.2 433L87.4 435.5L87.6 436.8L87.8 436.6L87.9 436.7L88.1 437.8L88.3 439L88.5 441.9L88.6 441.7L88.8 442.2L89 436.8L89.2 438.6L89.4 432.6L89.5 436L89.7 444.2L89.9 436.1L90.1 441.6L90.3 443L90.4 440.1L90.6 443.7L90.8 442.7L91 445L91.1 441.4L91.3 436.7L91.5 460.9L91.7 455L91.9 456.4L92 445.1L92.2 467L92.4 460.6L92.6 449.3L92.8 447.1L92.9 459.9L93.1 439.2L93.3 454L93.5 464.5L93.6 468L93.8 469.4L94 451.8L94.2 440L94.4 450.5L94.5 449L94.7 455.6L94.9 459.7L95.1 480.5L95.3 450.2L95.4 451.1L95.6 444.5L95.8 464L96 453.9L96.1 448.4L96.3 454L96.5 453.6L96.7 463.1L96.9 448.2L97 454L97.2 452.6L97.4 444.8L97.6 445.8L97.8 448.3L97.9 452.2L98.1 454.8L98.3 460L98.5 468.5L98.6 444.1L98.8 477.8L99 451.5L99.2 461L99.4 449.7L99.5 459.1L99.7 457.6L99.9 440L100.1 465.1L100.3 441.6L100.4 452.6L100.6 446.8L100.8 454.5L101 445.6L101.2 454.2L101.3 457.9L101.5 452.5L101.7 458.3L101.9 446.5L102 449.1L102.2 443.4L102.4 447L102.6 439.1L102.8 444.5L102.9 435.9L103.1 441.6L103.3 435.2L103.5 435L103.7 432.2L103.8 431.6L104 428.6L104.2 428.7L104.4 426.1L104.5 425L104.7 425.6L104.9 424L105.1 415.7L105.3 412.6L105.4 411.2L105.6 415.3L105.8 410.8L106 412.5L106.2 419.1L106.3 419L106.5 418L106.7 423.9L106.9 423.4L107 429.2L107.2 431L107.4 430.3L107.6 431.9L107.8 428.7L107.9 436.9L108.1 435.4L108.3 432.1L108.5 436.5L108.7 434.8L108.8 447.3L109 437.7L109.2 444.7L109.4 428.6L109.5 445.8L109.7 457.4L109.9 448.9L110.1 449.2L110.3 440.5L110.4 441.6L110.6 456.1L110.8 436.4L111 441.9L111.2 447.6L111.3 438.2L111.5 440.9L111.7 429.6L111.9 445.8L112 434.1L112.2 436.1L112.4 435.3L112.6 446.5L112.8 438.8L112.9 476.3L113.1 449.2L113.3 456.9L113.5 445.2L113.7 434.9L113.8 436.8L114 437.5L114.2 434L114.4 439.5L114.6 448.3L114.7 440.6L114.9 432.9L115.1 446L115.3 462.2L115.4 439.3L115.6 432L115.8 445.6L116 440.5L116.2 448.4L116.3 441.9L116.5 451.6L116.7 425.8L116.9 442.9L117.1 441.6L117.2 446.9L117.4 433.3L117.6 441L117.8 434.2L117.9 445.8L118.1 429.2L118.3 431.5L118.5 457.7L118.7 445L118.8 433.6L119 434.8L119.2 437.2L119.4 433L119.6 430.7L119.7 461.9L119.9 432.4L120.1 444.9L120.3 443.9L120.4 444.4L120.6 434.2L120.8 432.4L121 440.8L121.2 475.7L121.3 435.7L121.5 432.1L121.7 438.1L121.9 431.4L122.1 434.7L122.2 443.9L122.4 432.4L122.6 436.6L122.8 441.1L122.9 430.3L123.1 429.9L123.3 459.8L123.5 449.4L123.7 450.4L123.8 439L124 437.4L124.2 428.6L124.4 431.8L124.6 428.6L124.7 437.8L124.9 435.7L125.1 430.1L125.3 427.9L125.4 438.6L125.6 429.1L125.8 423L126 431L126.2 445.3L126.3 440.4L126.5 437L126.7 430.8L126.9 435.8L127.1 422.2L127.2 432.7L127.4 435.9L127.6 427L127.8 438L127.9 434.9L128.1 425.3L128.3 428.4L128.5 435.7L128.7 449.8L128.8 425.1L129 437.1L129.2 431.2L129.4 433.2L129.6 451.6L129.7 438.5L129.9 430.9L130.1 434.3L130.3 462.3L130.5 447L130.6 433.5L130.8 435.7L131 434.1L131.2 427.3L131.3 457.7L131.5 429.1L131.7 428.8L131.9 425.9L132.1 452.9L132.2 449.9L132.4 437.6L132.6 434.9L132.8 436.1L133 431.5L133.1 447.5L133.3 435.3L133.5 445.2L133.7 438.7L133.8 438.2L134 437.9L134.2 441.2L134.4 442.7L134.6 438L134.7 429.7L134.9 428.5L135.1 426.9L135.3 444.4L135.5 432.8L135.6 414.7L135.8 435.3L136 444.6L136.2 448.6L136.3 450.7L136.5 444.7L136.7 425.7L136.9 432.9L137.1 437.7L137.2 435.8L137.4 429.4L137.6 420.5L137.8 445.8L138 439.7L138.1 443.8L138.3 429.5L138.5 426.6L138.7 442.3L138.8 435.4L139 435.6L139.2 419.7L139.4 422.7L139.6 438.7L139.7 444.2L139.9 428.2L140.1 443.3L140.3 424.2L140.5 432.8L140.6 427.8L140.8 431.6L141 424.3L141.2 428.2L141.3 429.7L141.5 432.3L141.7 424.2L141.9 432.7L142.1 424.2L142.2 455.3L142.4 424.7L142.6 421.3L142.8 425.2L143 431.3L143.1 428.6L143.3 433.5L143.5 420.9L143.7 427.6L143.8 430.6L144 454L144.2 442.3L144.4 430.7L144.6 424.9L144.7 420.4L144.9 432L145.1 430.2L145.3 428.1L145.5 434.2L145.6 427.8L145.8 436.1L146 424L146.2 424.7L146.4 443.3L146.5 429.9L146.7 448.2L146.9 417.5L147.1 444.1L147.2 417.1L147.4 434.1L147.6 429.3L147.8 419.1L148 423.3L148.1 426.8L148.3 428.4L148.5 426.8L148.7 414.6L148.9 461.7L149 423.7L149.2 432.3L149.4 443.2L149.6 450.6L149.7 419.7L149.9 439.7L150.1 426.4L150.3 429.8L150.5 420.7L150.6 418.2L150.8 427.5L151 439.8L151.2 423.8L151.4 444.9L151.5 430.5L151.7 412.2L151.9 442L152.1 416.4L152.2 419.1L152.4 426.2L152.6 442.1L152.8 416.7L153 420.3L153.1 413.2L153.3 414.9L153.5 422.7L153.7 425.7L153.9 424.1L154 412.8L154.2 422.2L154.4 422.4L154.6 439.7L154.7 419.8L154.9 426.3L155.1 422.8L155.3 430.2L155.5 425.1L155.6 446.8L155.8 425.6L156 419.2L156.2 420.7L156.4 432.2L156.5 419.4L156.7 436.1L156.9 420.5L157.1 436.6L157.2 414.2L157.4 428.2L157.6 420.1L157.8 415.7L158 422.8L158.1 410.7L158.3 414.6L158.5 429L158.7 420.7L158.9 417L159 412.8L159.2 413.1L159.4 414.4L159.6 418.5L159.8 407.2L159.9 413.5L160.1 417.5L160.3 426.3L160.5 425.7L160.6 426.8L160.8 412.8L161 410.4L161.2 421.8L161.4 419.5L161.5 412L161.7 414.6L161.9 419.8L162.1 419.3L162.3 420.5L162.4 413.6L162.6 409.6L162.8 413.9L163 407.2L163.1 407L163.3 406.4L163.5 408.5L163.7 407L163.9 407.8L164 411L164.2 410.4L164.4 401.6L164.6 409.4L164.8 408.9L164.9 408.3L165.1 403.1L165.3 405.1L165.5 403.3L165.6 404L165.8 403.4L166 398L166.2 401.5L166.4 399.2L166.5 398.6L166.7 398.2L166.9 398.2L167.1 394.7L167.3 395.8L167.4 394.6L167.6 394.4L167.8 391L168 390.1L168.1 389L168.3 387.9L168.5 386.9L168.7 386.5L168.9 384.7L169 384.4L169.2 385.3L169.4 381.2L169.6 380.4L169.8 379.6L169.9 377L170.1 378.4L170.3 378.6L170.5 373.7L170.6 373.4L170.8 374L171 371.7L171.2 369.5L171.4 369.5L171.5 366.4L171.7 363.5L171.9 362.5L172.1 362.2L172.3 360.4L172.4 360.2L172.6 358L172.8 357.1L173 356.4L173.1 355.5L173.3 351.4L173.5 354.2L173.7 356.4L173.9 357.2L174 356.8L174.2 358L174.4 361.2L174.6 362L174.8 362.9L174.9 365.6L175.1 367.9L175.3 369.3L175.5 370L175.7 372.1L175.8 373.7L176 374L176.2 374.1L176.4 375.4L176.5 377.4L176.7 376.8L176.9 380.2L177.1 380.8L177.3 383.1L177.4 382.5L177.6 384.2L177.8 386.6L178 387.2L178.2 386.1L178.3 388.1L178.5 389.8L178.7 389.9L178.9 392.2L179 393.4L179.2 394.7L179.4 394.6L179.6 396.6L179.8 396.6L179.9 397.5L180.1 398.8L180.3 397.9L180.5 402L180.7 402.4L180.8 402.1L181 404.2L181.2 404.1L181.4 404L181.5 407.3L181.7 406.5L181.9 405.5L182.1 409.5L182.3 410.1L182.4 404.9L182.6 412.2L182.8 410.1L183 414.6L183.2 414.5L183.3 406.6L183.5 409.5L183.7 415.2L183.9 409.9L184 419.2L184.2 417.5L184.4 421.3L184.6 413.3L184.8 418.6L184.9 417.8L185.1 419.9L185.3 425.6L185.5 415.4L185.7 413.3L185.8 424.2L186 412.1L186.2 419.8L186.4 427.7L186.5 426.2L186.7 423L186.9 407.4L187.1 433.1L187.3 419.6L187.4 416.7L187.6 411.4L187.8 413.9L188 410.7L188.2 422.5L188.3 419.3L188.5 417.9L188.7 429.5L188.9 413L189 420.8L189.2 429.9L189.4 431.4L189.6 427.8L189.8 423.5L189.9 416.2L190.1 421.4L190.3 429.2L190.5 430.8L190.7 426.4L190.8 436.4L191 425.6L191.2 434.4L191.4 437.7L191.6 417.9L191.7 417.4L191.9 448.9L192.1 421.1L192.3 424.4L192.4 424L192.6 436L192.8 412.2L193 425.9L193.2 425.4L193.3 417.4L193.5 425.4L193.7 438.5L193.9 416L194.1 421.8L194.2 429.5L194.4 428.2L194.6 434.2L194.8 424.2L194.9 419.4L195.1 425.1L195.3 437.6L195.5 426.7L195.7 426L195.8 436L196 430.4L196.2 420.7L196.4 426.2L196.6 443.5L196.7 416.7L196.9 436L197.1 425.2L197.3 435.8L197.4 422.2L197.6 433.2L197.8 440.9L198 419.4L198.2 450.2L198.3 421.1L198.5 416.2L198.7 439.5L198.9 430.4L199.1 418.4L199.2 434L199.4 430.6L199.6 466.2L199.8 455.5L199.9 443.2L200.1 431.2L200.3 440.1L200.5 436.9L200.7 426.2L200.8 437.5L201 426.8L201.2 429.4L201.4 421.4L201.6 423.3L201.7 431.3L201.9 441.6L202.1 439.7L202.3 424.1L202.4 432.5L202.6 427.6L202.8 425.4L203 428.9L203.2 436.2L203.3 448.3L203.5 422.8L203.7 427.7L203.9 438.6L204.1 432L204.2 429.8L204.4 440.8L204.6 419.1L204.8 451.3L205 427.7L205.1 443.2L205.3 442.6L205.5 442.8L205.7 435.4L205.8 436.2L206 421.7L206.2 431.3L206.4 435.8L206.6 428.2L206.7 437.4L206.9 434.2L207.1 437.1L207.3 444.4L207.5 429.8L207.6 436.2L207.8 422.3L208 441.8L208.2 442.6L208.3 438.1L208.5 438.2L208.7 434.9L208.9 430L209.1 442L209.2 425.6L209.4 435.6L209.6 425L209.8 440.3L210 433.9L210.1 437.1L210.3 426.9L210.5 432.3L210.7 437.9L210.8 432.9L211 439.9L211.2 424.7L211.4 431.3L211.6 425.5L211.7 440.5L211.9 432.1L212.1 440.9L212.3 441.2L212.5 422.8L212.6 437.3L212.8 443.2L213 450L213.2 425.2L213.3 425.3L213.5 433.4L213.7 441.3L213.9 426L214.1 475.2L214.2 440.1L214.4 421.2L214.6 441.2L214.8 433.3L215 427.9L215.1 438.8L215.3 440.3L215.5 437.7L215.7 429.8L215.8 428.2L216 424.4L216.2 427.8L216.4 432L216.6 431.6L216.7 424.9L216.9 445.6L217.1 428.3L217.3 425.3L217.5 428.9L217.6 433.8L217.8 437.9L218 425.3L218.2 427.5L218.3 422.6L218.5 432.9L218.7 486.9L218.9 442.7L219.1 446L219.2 450.3L219.4 429.2L219.6 438.5L219.8 433.2L220 432.1L220.1 441.9L220.3 436.4L220.5 437.8L220.7 430.2L220.9 453.1L221 438.7L221.2 438L221.4 441.9L221.6 450.3L221.7 428.1L221.9 430.1L222.1 459.1L222.3 439.2L222.5 448.3L222.6 431.5L222.8 464.6L223 433.5L223.2 443.7L223.4 450.1L223.5 435.4L223.7 433.2L223.9 434.9L224.1 426.9L224.2 425L224.4 453.8L224.6 438.6L224.8 425.4L225 437L225.1 429.8L225.3 445.3L225.5 432.1L225.7 421.8L225.9 439L226 471.1L226.2 441.1L226.4 456.5L226.6 426.1L226.7 430.7L226.9 442.5L227.1 434.2L227.3 428.2L227.5 431.7L227.6 430.5L227.8 440.1L228 442.4L228.2 441.1L228.4 439L228.5 441.5L228.7 451.2L228.9 430.1L229.1 430.4L229.2 462.2L229.4 447.7L229.6 439L229.8 443.2L230 438.4L230.1 431L230.3 436.5L230.5 429.7L230.7 425.9L230.9 431.6L231 443.9L231.2 427.1L231.4 423.8L231.6 429.5L231.7 442.9L231.9 447.9L232.1 430.3L232.3 456.3L232.5 434.5L232.6 439.6L232.8 439L233 433.8L233.2 445.4L233.4 448.9L233.5 434.4L233.7 430.9L233.9 452.7L234.1 440L234.2 432.2L234.4 427.8L234.6 432.8L234.8 433.8L235 444.1L235.1 440L235.3 435.2L235.5 449.8L235.7 436.9L235.9 446.6L236 424.7L236.2 425.3L236.4 446.4L236.6 441.1L236.8 430L236.9 426.6L237.1 425L237.3 431.3L237.5 448.1L237.6 428.5L237.8 429.8L238 444.9L238.2 428.3L238.4 429.6L238.5 441.5L238.7 446.2L238.9 453.4L239.1 423.7L239.3 431.5L239.4 437.5L239.6 431.5L239.8 441.3L240 429.2L240.1 437.4L240.3 427.7L240.5 427.4L240.7 443.4L240.9 438L241 436.5L241.2 432.4L241.4 439.2L241.6 454.9L241.8 432.3L241.9 423.8L242.1 429.9L242.3 442.6L242.5 430.7L242.6 441.6L242.8 428.6L243 437L243.2 432L243.4 435.5L243.5 432.1L243.7 436.8L243.9 440.9L244.1 439.6L244.3 433.1L244.4 422.9L244.6 444.2L244.8 425.7L245 431.9L245.1 442.4L245.3 460.1L245.5 440.1L245.7 425.7L245.9 455.2L246 423.1L246.2 422.4L246.4 440.2L246.6 449.6L246.8 437.2L246.9 446.1L247.1 437.3L247.3 424.4L247.5 436.5L247.6 440.8L247.8 433.5L248 438.6L248.2 432.9L248.4 424.7L248.5 444.6L248.7 427.3L248.9 427.2L249.1 425.3L249.3 430.1L249.4 431L249.6 426.9L249.8 425.8L250 431.8L250.2 419.2L250.3 432.7L250.5 424.2L250.7 425L250.9 424.4L251 442.2L251.2 438.5L251.4 447.7L251.6 438.3L251.8 432.4L251.9 429.9L252.1 433.1L252.3 433.3L252.5 448.2L252.7 428.1L252.8 441.4L253 438.5L253.2 440.9L253.4 432.8L253.5 431.5L253.7 435.5L253.9 428.6L254.1 431L254.3 422L254.4 424.8L254.6 429.9L254.8 430.8L255 424L255.2 431.2L255.3 426.8L255.5 422.6L255.7 419.7L255.9 425.2L256 426.7L256.2 427.8L256.4 428.8L256.6 419.9L256.8 426.7L256.9 418.4L257.1 423.4L257.3 421.2L257.5 417.1L257.7 420.9L257.8 420.1L258 418.2L258.2 416.7L258.4 414.5L258.5 417L258.7 421.5L258.9 416.3L259.1 420.9L259.3 414.8L259.4 422.6L259.6 409.6L259.8 407.2L260 411.3L260.2 414.8L260.3 411.4L260.5 407.4L260.7 407.7L260.9 411.2L261 405L261.2 406.6L261.4 406.3L261.6 409.6L261.8 407.5L261.9 407L262.1 406.3L262.3 408.8L262.5 402.3L262.7 405.2L262.8 405.2L263 405.5L263.2 405.9L263.4 412L263.5 403.6L263.7 408.1L263.9 407.8L264.1 411.9L264.3 412.3L264.4 409.4L264.6 410.2L264.8 414.3L265 409.8L265.2 411.9L265.3 415.8L265.5 406.3L265.7 409.8L265.9 411.9L266.1 414.4L266.2 411.5L266.4 414.4L266.6 411.8L266.8 416.6L266.9 421.2L267.1 417.3L267.3 426.3L267.5 416.9L267.7 419.4L267.8 420.5L268 424.3L268.2 425L268.4 423.4L268.6 427.5L268.7 419.4L268.9 425.6L269.1 428.6L269.3 425.7L269.4 423.6L269.6 435L269.8 428.5L270 427.1L270.2 422.4L270.3 431.6L270.5 418.6L270.7 438.7L270.9 428.4L271.1 429.9L271.2 422.3L271.4 431.9L271.6 421.9L271.8 435.6L271.9 433.5L272.1 422.4L272.3 433.3L272.5 431.6L272.7 424.5L272.8 431.5L273 433.8L273.2 428.7L273.4 433.9L273.6 435L273.7 440.1L273.9 438.6L274.1 421L274.3 439.9L274.4 447L274.6 429L274.8 443.4L275 424L275.2 418.3L275.3 428.5L275.5 421.4L275.7 421.7L275.9 428.5L276.1 452.4L276.2 430.1L276.4 457.4L276.6 429.9L276.8 429L276.9 416.9L277.1 420.3L277.3 441.7L277.5 434.4L277.7 431.3L277.8 443.2L278 433.4L278.2 425.4L278.4 441.5L278.6 435.7L278.7 420.2L278.9 439.8L279.1 427.1L279.3 440.5L279.4 439.5L279.6 444.5L279.8 421.3L280 436L280.2 426.1L280.3 441.2L280.5 421.4L280.7 442.4L280.9 454.1L281.1 430.3L281.2 431L281.4 432.5L281.6 443.9L281.8 420.6L282 441L282.1 426.9L282.3 428L282.5 442.2L282.7 421.7L282.8 422.3L283 434.4L283.2 435.9L283.4 424.3L283.6 434.8L283.7 427.1L283.9 417.7L284.1 425.1L284.3 422.8L284.5 429L284.6 429.1L284.8 427.7L285 445L285.2 427.7L285.3 423.6L285.5 449.2L285.7 433.4L285.9 449.9L286.1 429.1L286.2 432.5L286.4 426.6L286.6 452L286.8 425.5L287 447.2L287.1 426.9L287.3 437.4L287.5 433.7L287.7 437.8L287.8 424L288 479.5L288.2 430.1L288.4 420.3L288.6 434.7L288.7 420.4L288.9 433.7L289.1 435.7L289.3 424L289.5 421.7L289.6 422.3L289.8 434L290 436.8L290.2 446.1L290.3 426.6L290.5 421.2L290.7 433.3L290.9 440.5L291.1 436.1L291.2 430.1L291.4 425.5L291.6 436.2L291.8 441.6L292 424.5L292.1 435.6L292.3 437.7L292.5 470.6L292.7 427.8L292.8 428.1L293 419.1L293.2 423.1L293.4 436.8L293.6 425.7L293.7 445.5L293.9 426.6L294.1 438.8L294.3 427.5L294.5 437.2L294.6 429.1L294.8 424.4L295 424.2L295.2 426L295.4 422L295.5 442.3L295.7 446.5L295.9 438.8L296.1 415.1L296.2 443.3L296.4 438.8L296.6 440.9L296.8 433.6L297 424.4L297.1 426.3L297.3 428.2L297.5 423.8L297.7 418.2L297.9 450.6L298 428.2L298.2 433L298.4 421.8L298.6 441.8L298.7 437.2L298.9 419.1L299.1 424.3L299.3 437L299.5 419.9L299.6 417.9L299.8 422.1L300 422.8L300.2 438L300.4 438.4L300.5 432.2L300.7 426.6L300.9 438.4L301.1 433.8L301.2 420.1L301.4 424L301.6 435.5L301.8 432.1L302 428.4L302.1 431.3L302.3 425.3L302.5 432.6L302.7 422.8L302.9 460.5L303 440.2L303.2 430.6L303.4 456.4L303.6 435L303.7 432.4L303.9 434.1L304.1 435.7L304.3 462.5L304.5 438.5L304.6 425.2L304.8 420.1L305 446.6L305.2 436.8L305.4 432.5L305.5 430.4L305.7 450.1L305.9 419.3L306.1 423.3L306.2 426.9L306.4 473L306.6 435.5L306.8 433L307 427.4L307.1 423.3L307.3 417.3L307.5 422.9L307.7 423.7L307.9 430.9L308 427.9L308.2 456.5L308.4 446.7L308.6 431.9L308.7 423.5L308.9 426.9L309.1 418.3L309.3 434.6L309.5 428.3L309.6 447.2L309.8 426.9L310 441.6L310.2 428.5L310.4 434.3L310.5 427.7L310.7 439.6L310.9 424.9L311.1 423.4L311.3 419.8L311.4 428.2L311.6 436.7L311.8 429.9L312 441.2L312.1 432.6L312.3 431.4L312.5 430.6L312.7 419.2L312.9 432.7L313 424.1L313.2 421.1L313.4 421.7L313.6 423.5L313.8 433.5L313.9 426.2L314.1 426.4L314.3 428.8L314.5 451.3L314.6 425.6L314.8 426.5L315 425.5L315.2 426.8L315.4 426.5L315.5 440.6L315.7 456.9L315.9 428.4L316.1 442.6L316.3 421.8L316.4 430.3L316.6 440.2L316.8 421.3L317 477.3L317.1 428.6L317.3 430.6L317.5 449.6L317.7 446.5L317.9 424.5L318 429.7L318.2 436.7L318.4 429.8L318.6 448.8L318.8 424.3L318.9 455.6L319.1 433.5L319.3 433.3L319.5 435.1L319.6 425.8L319.8 429.5L320 424.8L320.2 439.4L320.4 427.1L320.5 422.9L320.7 444L320.9 427.4L321.1 450.2L321.3 429.5L321.4 434.2L321.6 438.6L321.8 431L322 449.3L322.1 439.6L322.3 444.1L322.5 431.3L322.7 422.5L322.9 423.7L323 423L323.2 431.4L323.4 450.3L323.6 431.8L323.8 429.2L323.9 422L324.1 428L324.3 423.9L324.5 429.7L324.6 429.8L324.8 448.1L325 428.5L325.2 443.5L325.4 419.2L325.5 427.4L325.7 436.3L325.9 429.5L326.1 420.9L326.3 427.7L326.4 431.8L326.6 451.1L326.8 425.2L327 421.3L327.2 437.5L327.3 433.3L327.5 427.5L327.7 428.4L327.9 427.1L328 434.6L328.2 442.4L328.4 426.5L328.6 445.6L328.8 428.9L328.9 430.4L329.1 425.6L329.3 421.2L329.5 424.3L329.7 425.4L329.8 429.3L330 430.5L330.2 441.2L330.4 427.7L330.5 437.8L330.7 425.5L330.9 430.1L331.1 420.8L331.3 444.1L331.4 427.5L331.6 433.9L331.8 432L332 430.4L332.2 425.2L332.3 440.2L332.5 430L332.7 422.6L332.9 421.6L333 430.7L333.2 432.1L333.4 426L333.6 425.1L333.8 440.5L333.9 435.1L334.1 422.9L334.3 439.4L334.5 420L334.7 441.1L334.8 440.8L335 422.3L335.2 463.1L335.4 444.8L335.5 423.8L335.7 434.3L335.9 429.8L336.1 422.9L336.3 424.4L336.4 424.4L336.6 434.8L336.8 432.2L337 454.2L337.2 426.6L337.3 430.2L337.5 427.9L337.7 428.1L337.9 432.5L338 438.5L338.2 435.1L338.4 422L338.6 425.9L338.8 433.5L338.9 437.6L339.1 442.5L339.3 427.7L339.5 429.7L339.7 419.5L339.8 431L340 426.5L340.2 431.1L340.4 432.9L340.6 423.6L340.7 420.7L340.9 435.9L341.1 436.2L341.3 460.7L341.4 430.6L341.6 420.4L341.8 420.7L342 454.1L342.2 436.6L342.3 423.4L342.5 428.9L342.7 424.1L342.9 438.1L343.1 436.5L343.2 447.2L343.4 434.3L343.6 428.6L343.8 445.7L343.9 428.1L344.1 436.7L344.3 424.7L344.5 425.9L344.7 433L344.8 426.3L345 442L345.2 430.9L345.4 447.3L345.6 432.9L345.7 432.3L345.9 430.7L346.1 424.1L346.3 427.4L346.4 444.4L346.6 434.9L346.8 437.8L347 428.8L347.2 424.3L347.3 438.8L347.5 428.8L347.7 438.2L347.9 420.3L348.1 427.4L348.2 434.1L348.4 447.5L348.6 424.2L348.8 457.8L348.9 434.8L349.1 424.2L349.3 417L349.5 447.3L349.7 434.8L349.8 436.2L350 428.7L350.2 421.1L350.4 430L350.6 433.9L350.7 425.9L350.9 451.6L351.1 438L351.3 417.4L351.4 426.2L351.6 444.7L351.8 437L352 439.1L352.2 423.9L352.3 443.2L352.5 434.3L352.7 428.5L352.9 435L353.1 425.2L353.2 444.4L353.4 420.7L353.6 425.7L353.8 436L353.9 428.8L354.1 443.4L354.3 440.2L354.5 434.9L354.7 427.6L354.8 429.2L355 427L355.2 426.6L355.4 416.6L355.6 425.5L355.7 435.3L355.9 431.4L356.1 427L356.3 426.9L356.5 423.7L356.6 420.6L356.8 423L357 433.3L357.2 447.3L357.3 435.1L357.5 427.2L357.7 431.9L357.9 422.5L358.1 420.9L358.2 420.1L358.4 432L358.6 432.4L358.8 423L359 448.9L359.1 422.7L359.3 430.7L359.5 434L359.7 418.4L359.8 425.7L360 431.2L360.2 434.8L360.4 434.9L360.6 434.3L360.7 420.5L360.9 419.8L361.1 441.9L361.3 422.8L361.5 427.6L361.6 440.8L361.8 419.2L362 441.8L362.2 434.1L362.3 428.1L362.5 425L362.7 430.9L362.9 440L363.1 424.2L363.2 425.2L363.4 430.4L363.6 439.4L363.8 428.7L364 428.6L364.1 452.2L364.3 431.2L364.5 438.4L364.7 434.6L364.8 431.5L365 429L365.2 434.1L365.4 440.4L365.6 422.7L365.7 425.6L365.9 424.4L366.1 439.4L366.3 426.8L366.5 429.3L366.6 430.7L366.8 451.1L367 414.7L367.2 423.7L367.3 442.4L367.5 429.5L367.7 427.7L367.9 449L368.1 421.6L368.2 417L368.4 445.1L368.6 439.8L368.8 431.2L369 425.5L369.1 438L369.3 423L369.5 428.9L369.7 423.4L369.8 428.4L370 415.3L370.2 429.5L370.4 429.4L370.6 457.8L370.7 427.9L370.9 431.1L371.1 422.9L371.3 425.9L371.5 424.7L371.6 454.8L371.8 422.2L372 433.8L372.2 440.3L372.4 448.8L372.5 435.5L372.7 423.6L372.9 446.3L373.1 430.7L373.2 431L373.4 443.9L373.6 417L373.8 436L374 437.4L374.1 434.5L374.3 423.9L374.5 445.7L374.7 424.9L374.9 426.7L375 440.5L375.2 446.3L375.4 425.5L375.6 429.9L375.7 441.3L375.9 431.2L376.1 424.7L376.3 427.7L376.5 433.5L376.6 436.1L376.8 426.4L377 423.8L377.2 438.1L377.4 426.3L377.5 425.1L377.7 426L377.9 424.7L378.1 422.4L378.2 428L378.4 423.8L378.6 433.9L378.8 421.5L379 427.4L379.1 449.7L379.3 429.5L379.5 443.9L379.7 424.7L379.9 438.3L380 420.9L380.2 450.1L380.4 452L380.6 435.1L380.7 424.1L380.9 437.2L381.1 439L381.3 434L381.5 437.9L381.6 425.2L381.8 438.1L382 424.6L382.2 430.5L382.4 428.2L382.5 424.3L382.7 425.3L382.9 443.4L383.1 419.9L383.2 430.2L383.4 430L383.6 421.7L383.8 420.8L384 429L384.1 427.4L384.3 425.3L384.5 425.3L384.7 424.7L384.9 433.6L385 455.9L385.2 426.3L385.4 428.2L385.6 435.2L385.7 426.3L385.9 422.1L386.1 433.9L386.3 427.3L386.5 414.7L386.6 426.8L386.8 443L387 419.5L387.2 443.8L387.4 433L387.5 440.3L387.7 431.7L387.9 435.6L388.1 443.5L388.3 423.3L388.4 421.6L388.6 431.9L388.8 429.9L389 430.8L389.1 427.4L389.3 456.8L389.5 432.7L389.7 432.9L389.9 418.1L390 425.7L390.2 425.8L390.4 464.5L390.6 422.4L390.8 430.4L390.9 436.3L391.1 433.2L391.3 437.3L391.5 427.4L391.6 423.1L391.8 424.6L392 431.4L392.2 430.8L392.4 428.4L392.5 446.1L392.7 428.2L392.9 424.3L393.1 432.6L393.3 432.2L393.4 438.2L393.6 431.7L393.8 415.7L394 430L394.1 423.6L394.3 424.8L394.5 437.6L394.7 452.1L394.9 442.5L395 424.8L395.2 428.8L395.4 441.8L395.6 440.8L395.8 419.7L395.9 425.7L396.1 432.4L396.3 423.9L396.5 417.4L396.6 424.5L396.8 431.2L397 435.8L397.2 436.5L397.4 431.8L397.5 432.6L397.7 430.8L397.9 438.6L398.1 433.9L398.3 434.8L398.4 444.7L398.6 421.9L398.8 418.7L399 431L399.1 429.2L399.3 445.1L399.5 426.4L399.7 434.6L399.9 435.2L400 424.9L400.2 415.8L400.4 428.6L400.6 424L400.8 423.8L400.9 429.5L401.1 423.5L401.3 431.7L401.5 433L401.7 429.7L401.8 431.8L402 423.9L402.2 432L402.4 441.4L402.5 441.1L402.7 421.6L402.9 426.7L403.1 435.8L403.3 432.4L403.4 428L403.6 440.3L403.8 444.1L404 431.7L404.2 425.1L404.3 452.1L404.5 429.9L404.7 427.1L404.9 422.1L405 448.8L405.2 435L405.4 420.3L405.6 423.6L405.8 446.7L405.9 420.5L406.1 434.6L406.3 431.9L406.5 430.3L406.7 435.1L406.8 426.9L407 433.3L407.2 442.8L407.4 432L407.5 430.9L407.7 432.9L407.9 423.7L408.1 426.9L408.3 435.8L408.4 431.8L408.6 421.9L408.8 442.2L409 428.5L409.2 425.1L409.3 422.8L409.5 446.7L409.7 436.3L409.9 426.4L410 423.8L410.2 441.3L410.4 422.7L410.6 430.8L410.8 434.4L410.9 448.2L411.1 434.9L411.3 421.6L411.5 430.8L411.7 445.4L411.8 425.6L412 420.9L412.2 419.8L412.4 440.4L412.5 447.7L412.7 429.5L412.9 426.3L413.1 428.2L413.3 423.5L413.4 429L413.6 429.7L413.8 431.1L414 421.5L414.2 455L414.3 433.3L414.5 432L414.7 440L414.9 419.3L415 432.3L415.2 427.6L415.4 433.7L415.6 448.2L415.8 420.2L415.9 423.4L416.1 427.2L416.3 431.1L416.5 440.1L416.7 436.4L416.8 431.4L417 423.8L417.2 430.4L417.4 429.1L417.6 421.7L417.7 445.7L417.9 440.7L418.1 432.9L418.3 425.1L418.4 432.1L418.6 426.7L418.8 433.8L419 418.6L419.2 432.7L419.3 431.7L419.5 446.8L419.7 431.9L419.9 438.1L420.1 424.5L420.2 431.5L420.4 426.7L420.6 459.2L420.8 451.1L420.9 425L421.1 433.2L421.3 420.3L421.5 431.4L421.7 459L421.8 422.5L422 436.2L422.2 430.7L422.4 465.2L422.6 428.4L422.7 440L422.9 432.5L423.1 438.8L423.3 441.3L423.4 433.8L423.6 427.2L423.8 432.5L424 438.4L424.2 439.7L424.3 433.4L424.5 429.4L424.7 420.8L424.9 421.8L425.1 433.8L425.2 428.1L425.4 434.6L425.6 430.8L425.8 428.2L425.9 424.1L426.1 441.1L426.3 425.6L426.5 433.4L426.7 421.4L426.8 452.2L427 422.8L427.2 430.4L427.4 439.3L427.6 424.7L427.7 433.8L427.9 428.4L428.1 452L428.3 422.3L428.4 423.8L428.6 431.3L428.8 434.8L429 432L429.2 423.6L429.3 430.1L429.5 420L429.7 434.5L429.9 426.8L430.1 451.8L430.2 428.2L430.4 419.4L430.6 416.4L430.8 426.8L430.9 425.4L431.1 449.9L431.3 438L431.5 427.6L431.7 425.3L431.8 420.1L432 422L432.2 436.7L432.4 419.7L432.6 438.2L432.7 428.1L432.9 434.8L433.1 433L433.3 421.6L433.5 437.1L433.6 442.8L433.8 421.6L434 454L434.2 439.1L434.3 432.7L434.5 435.2L434.7 419.1L434.9 424.6L435.1 444.9L435.2 441.9L435.4 424.4L435.6 431.4L435.8 427.1L436 423.7L436.1 438.1L436.3 434.6L436.5 420.2L436.7 434.4L436.8 416.5L437 421.2L437.2 428.5L437.4 418.5L437.6 430.8L437.7 434.8L437.9 425.3L438.1 435.2L438.3 420.3L438.5 420.9L438.6 430.3L438.8 418.1L439 437.2L439.2 443.8L439.3 415.5L439.5 438.8L439.7 431.9L439.9 455L440.1 438.9L440.2 444.7L440.4 441.5L440.6 441.4L440.8 437.2L441 445L441.1 420.9L441.3 439L441.5 434.7L441.7 427.5L441.8 429L442 421.7L442.2 426.4L442.4 435.8L442.6 431.5L442.7 446.9L442.9 425.2L443.1 424.7L443.3 436.5L443.5 451L443.6 427.6L443.8 428.1L444 419.6L444.2 424.8L444.3 445.2L444.5 455.8L444.7 430.1L444.9 441.4L445.1 424.4L445.2 433.8L445.4 445.6L445.6 427.2L445.8 433.6L446 436.7L446.1 422.5L446.3 425.3L446.5 432.4L446.7 425.3L446.9 423L447 423.1L447.2 438.1L447.4 429.5L447.6 431.6L447.7 433.5L447.9 426.7L448.1 434.1L448.3 429.3L448.5 421.1L448.6 430.8L448.8 430.3L449 435L449.2 451.5L449.4 419.2L449.5 433L449.7 435.4L449.9 429.9L450.1 428.9L450.2 435.7L450.4 431.2L450.6 428.6L450.8 434L451 432.8L451.1 420.9L451.3 427.4L451.5 444L451.7 423L451.9 430.8L452 433.6L452.2 421.9L452.4 424L452.6 426.7L452.7 432.6L452.9 422.1L453.1 437.5L453.3 434.8L453.5 439L453.6 424.9L453.8 431.2L454 441.7L454.2 429L454.4 431.9L454.5 428.4L454.7 436.6L454.9 433.3L455.1 437L455.2 453.6L455.4 438L455.6 432L455.8 425.2L456 430.6L456.1 449.3L456.3 459L456.5 422L456.7 434.5L456.9 417.6L457 421.6L457.2 427.6L457.4 421.2L457.6 433.9L457.7 430.3L457.9 427.9L458.1 441.3L458.3 427.3L458.5 425.1L458.6 425.9L458.8 417.6L459 436L459.2 433.8L459.4 428.6L459.5 439.6L459.7 426.8L459.9 424.3L460.1 418.4L460.2 423.5L460.4 429.3L460.6 426.8L460.8 429.1L461 419.5L461.1 417.9L461.3 434.6L461.5 428.5L461.7 438.1L461.9 440.9L462 427.4L462.2 429.2L462.4 437L462.6 422.2L462.8 437.9L462.9 427.2L463.1 424.9L463.3 428.8L463.5 431.6L463.6 432.4L463.8 434.8L464 417.8L464.2 421.2L464.4 422.5L464.5 415.3L464.7 420.7L464.9 419.4L465.1 423.1L465.3 413.8L465.4 419.9L465.6 413L465.8 411.2L466 412.5L466.1 420.9L466.3 414.8L466.5 417.4L466.7 415.3L466.9 427.8L467 420L467.2 430.3L467.4 426.4L467.6 425.3L467.8 430.8L467.9 433.5L468.1 422L468.3 424.4L468.5 421.3L468.6 434.1L468.8 423.6L469 429.1L469.2 421L469.4 441.7L469.5 436.5L469.7 434.2L469.9 435.2L470.1 427.4L470.3 423.8L470.4 417.2L470.6 428.4L470.8 445.1L471 418L471.1 423.9L471.3 430.9L471.5 420.4L471.7 426.1L471.9 437L472 424.3L472.2 426.3L472.4 425.8L472.6 424.1L472.8 439.1L472.9 449.8L473.1 432.4L473.3 425.2L473.5 425L473.6 435L473.8 435.9L474 439.6L474.2 422.4L474.4 424L474.5 427L474.7 428.8L474.9 439.4L475.1 420.9L475.3 426.2L475.4 421.8L475.6 439L475.8 435.6L476 439.2L476.1 426.5L476.3 430.9L476.5 443.5L476.7 417.4L476.9 438.8L477 437.6L477.2 428.9L477.4 437.8L477.6 437.2L477.8 423.5L477.9 453.3L478.1 448.5L478.3 425.3L478.5 450.6L478.7 431.3L478.8 430.5L479 437.8L479.2 445.8L479.4 425.3L479.5 422L479.7 440.6L479.9 429.1L480.1 431.5L480.3 429.9L480.4 442.9L480.6 431.9L480.8 435.4L481 437.6L481.2 414.3L481.3 431.7L481.5 432.7L481.7 421.4L481.9 423.2L482 420.1L482.2 428.5L482.4 437.9L482.6 425L482.8 442.5L482.9 420.1L483.1 427.1L483.3 424.7L483.5 451.1L483.7 423.2L483.8 441.3L484 430.7L484.2 425.6L484.4 428.6L484.5 422.3L484.7 432.8L484.9 434.4L485.1 429.1L485.3 438.5L485.4 437.5L485.6 434.6L485.8 437L486 428.8L486.2 422.9L486.3 430.9L486.5 429.5L486.7 422.7L486.9 435.2L487 429.1L487.2 434.6L487.4 423.8L487.6 424.8L487.8 421.1L487.9 445.1L488.1 435L488.3 426.4L488.5 419.4L488.7 426.9L488.8 438L489 444.4L489.2 423.2L489.4 446.7L489.5 424.1L489.7 418.5L489.9 422.3L490.1 417.2L490.3 424.9L490.4 437.6L490.6 429.9L490.8 438.5L491 421.1L491.2 436.9L491.3 422.4L491.5 426.7L491.7 447.8L491.9 436.3L492.1 436.3L492.2 433.8L492.4 427.6L492.6 433.3L492.8 428.9L492.9 438.4L493.1 434.6L493.3 443.7L493.5 440.5L493.7 440.6L493.8 421.1L494 417.4L494.2 427.9L494.4 449.1L494.6 432.8L494.7 432.1L494.9 440L495.1 433.5L495.3 421.7L495.4 429.8L495.6 442.2L495.8 439.1L496 419.9L496.2 477.7L496.3 430.8L496.5 426L496.7 428.9L496.9 448.9L497.1 444.2L497.2 427.3L497.4 433.6L497.6 420.3L497.8 438.5L497.9 420.4L498.1 435.8L498.3 426.5L498.5 422.8L498.7 422.6L498.8 454.4L499 424.5L499.2 429.7L499.4 422.9L499.6 430.1L499.7 439.7L499.9 425.1L500.1 435.7L500.3 427.3L500.4 422.1L500.6 439.4L500.8 427.1L501 433.6L501.2 450.2L501.3 436L501.5 426.8L501.7 433L501.9 436.9L502.1 424.4L502.2 450.7L502.4 424.6L502.6 418.6L502.8 431L502.9 429.8L503.1 422.9L503.3 430L503.5 425.6L503.7 439.4L503.8 430.1L504 430.9L504.2 422.6L504.4 449.4L504.6 425.2L504.7 432.2L504.9 437.9L505.1 430.8L505.3 426.6L505.4 433.7L505.6 435.8L505.8 422.5L506 425.2L506.2 423.6L506.3 417.6L506.5 433.1L506.7 479L506.9 425.6L507.1 448.2L507.2 427.9L507.4 445.6L507.6 421.1L507.8 426.5L508 441L508.1 445.2L508.3 438.9L508.5 434.8L508.7 426.4L508.8 459L509 432L509.2 439.7L509.4 428.2L509.6 448.2L509.7 433.2L509.9 435.7L510.1 422.6L510.3 428.5L510.5 421.2L510.6 427.3L510.8 431.8L511 426L511.2 415.4L511.3 428.9L511.5 437.2L511.7 427.8L511.9 437.9L512.1 428L512.2 431.4L512.4 426.2L512.6 420.9L512.8 438.1L513 430.6L513.1 438.6L513.3 438.2L513.5 438L513.7 427.8L513.8 426L514 424.6L514.2 429.6L514.4 432.7L514.6 441.9L514.7 473.7L514.9 436.2L515.1 431.8L515.3 425.9L515.5 432.2L515.6 425.8L515.8 442.4L516 424.6L516.2 428.4L516.3 424.6L516.5 424.4L516.7 437.4L516.9 424.1L517.1 426.6L517.2 419L517.4 445.4L517.6 444.3L517.8 427.7L518 446.2L518.1 424.7L518.3 425.2L518.5 431.6L518.7 424.4L518.8 445L519 453.9L519.2 422L519.4 429.2L519.6 428.7L519.7 461.2L519.9 459.6L520.1 419.9L520.3 450.7L520.5 433.8L520.6 429.7L520.8 429L521 441.5L521.2 422.2L521.3 428.2L521.5 421.3L521.7 428.2L521.9 438.8L522.1 440.3L522.2 422.5L522.4 425.1L522.6 435.3L522.8 423.3L523 419.3L523.1 442.2L523.3 417.7L523.5 443.8L523.7 432.6L523.9 428.1L524 426.2L524.2 428.1L524.4 444.2L524.6 432.1L524.7 422.6L524.9 431.7L525.1 426.4L525.3 444.6L525.5 423L525.6 430.2L525.8 417.7L526 425.4L526.2 435.6L526.4 433L526.5 446.1L526.7 422.9L526.9 429.6L527.1 421.4L527.2 435.2L527.4 421.5L527.6 446.6L527.8 430L528 431.2L528.1 427.6L528.3 428.2L528.5 442.6L528.7 437.2L528.9 428L529 439.6L529.2 427.8L529.4 420.6L529.6 424.7L529.7 428.7L529.9 429.1L530.1 423.4L530.3 435.4L530.5 424.9L530.6 433.9L530.8 430.9L531 433.8L531.2 443.9L531.4 435.7L531.5 433L531.7 434.8L531.9 430.7L532.1 464.8L532.2 439.6L532.4 423L532.6 422.9L532.8 429L533 446.4L533.1 422.6L533.3 424.9L533.5 485.8L533.7 436.8L533.9 431.3L534 423.2L534.2 418.3L534.4 426.8L534.6 423.8L534.7 443.3L534.9 430.7L535.1 430.4L535.3 432.9L535.5 430.2L535.6 424.9L535.8 436.4L536 436.5L536.2 445.2L536.4 430.1L536.5 422.3L536.7 452.1L536.9 416.8L537.1 422.9L537.3 435.5L537.4 441.9L537.6 448.9L537.8 432.5L538 425.7L538.1 418.2L538.3 436.4L538.5 433.7L538.7 421.8L538.9 436.8L539 449.8L539.2 423.7L539.4 432.7L539.6 428.6L539.8 433L539.9 421.9L540.1 444.3L540.3 426.1L540.5 433.7L540.6 424.8L540.8 423.5L541 451.3L541.2 425.3L541.4 450.6L541.5 441.8L541.7 431.6L541.9 431.7L542.1 418.2L542.3 437.7L542.4 434.8L542.6 432.3L542.8 439.4L543 429.7L543.1 427.9L543.3 436.6L543.5 430.2L543.7 432.8L543.9 422.8L544 424L544.2 423.6L544.4 438.9L544.6 465.6L544.8 454.8L544.9 431.5L545.1 438.2L545.3 422L545.5 426.8L545.6 448.4L545.8 426.1L546 423L546.2 428.9L546.4 437.6L546.5 460.2L546.7 418.3L546.9 433.5L547.1 440.7L547.3 439.5L547.4 446.1L547.6 433.8L547.8 441.1L548 428.3L548.1 432.4L548.3 431.4L548.5 429.1L548.7 429.2L548.9 435.5L549 422.8L549.2 440.4L549.4 435.6L549.6 424L549.8 427.2L549.9 440.8L550.1 428.7L550.3 441.1L550.5 428.2L550.6 464.9L550.8 428L551 458.4L551.2 427.9L551.4 428.7L551.5 423.4L551.7 438.3L551.9 420.6L552.1 438.1L552.3 430.3L552.4 441.8L552.6 433.1L552.8 449.4L553 430.6L553.2 424.6L553.3 446.6L553.5 444L553.7 440.7L553.9 432.6L554 425.4L554.2 417.1L554.4 439.4L554.6 434.2L554.8 429.1L554.9 430.6L555.1 438.4L555.3 424.7L555.5 417.4L555.7 421.1L555.8 461L556 424.2L556.2 455.9L556.4 418L556.5 434.5L556.7 430.9L556.9 430.2L557.1 411.5L557.3 431.8L557.4 433L557.6 440.4L557.8 440.2L558 439.3L558.2 419.8L558.3 442.8L558.5 430.8L558.7 442.3L558.9 445.2L559 420.7L559.2 428.4L559.4 430.4L559.6 432.7L559.8 448.2L559.9 418.5L560.1 432.7L560.3 430.1L560.5 422.3L560.7 434.9L560.8 436.2L561 421.8L561.2 421.5L561.4 430.1L561.5 451L561.7 440.2L561.9 434.3L562.1 428.2L562.3 450L562.4 429.8L562.6 422.5L562.8 432.6L563 421.1L563.2 442.1L563.3 430.4L563.5 436.5L563.7 441.3L563.9 438.4L564 438.5L564.2 438.2L564.4 427.9L564.6 418.1L564.8 425.2L564.9 433.9L565.1 426.5L565.3 459.7L565.5 426.5L565.7 435.6L565.8 422L566 429.4L566.2 438.9L566.4 445.3L566.5 420.3L566.7 439L566.9 452.6L567.1 417.6L567.3 439.4L567.4 419L567.6 434.7L567.8 460.7L568 420.8L568.2 436.8L568.3 421.7L568.5 432.2L568.7 427.1L568.9 431.6L569.1 437.2L569.2 423.9L569.4 426.2L569.6 421.8L569.8 428.4L569.9 420.7L570.1 418.1L570.3 436.3L570.5 435.4L570.7 418.1L570.8 434L571 434.6L571.2 427.1L571.4 426.1L571.6 424.7L571.7 432.7L571.9 422.3L572.1 431.4L572.3 428.4L572.4 430.6L572.6 437.2L572.8 424.6L573 426.4L573.2 429.9L573.3 426.7L573.5 434.8L573.7 422.6L573.9 445.9L574.1 448.8L574.2 422.1L574.4 430L574.6 427.1L574.8 427.1L574.9 424L575.1 431.2L575.3 438.9L575.5 424.8L575.7 438.2L575.8 436.9L576 433.4L576.2 443.5L576.4 432.7L576.6 438.8L576.7 450.7L576.9 441.4L577.1 432L577.3 426L577.4 432.7L577.6 436L577.8 435.9L578 428.2L578.2 436.9L578.3 426.8L578.5 422.2L578.7 451.2L578.9 446.1L579.1 428.7L579.2 431.4L579.4 416.9L579.6 450.2L579.8 427.3L579.9 432.9L580.1 422.4L580.3 422.5L580.5 432.3L580.7 434.5L580.8 456.5L581 435.3L581.2 432.9L581.4 432.7L581.6 425.7L581.7 427.6L581.9 433.3L582.1 422.4L582.3 426.2L582.5 423.2L582.6 418.6L582.8 429.3L583 427.7L583.2 431.7L583.3 428.2L583.5 420.4L583.7 441.8L583.9 418.8L584.1 417.5L584.2 417.6L584.4 438.4L584.6 427.6L584.8 449.3L585 426.5L585.1 428.4L585.3 435.3L585.5 449.5L585.7 445.6L585.8 427.7L586 434.7L586.2 419.9L586.4 431.9L586.6 433.8L586.7 425.7L586.9 434.1L587.1 426.3L587.3 437.5L587.5 420.3L587.6 430.8L587.8 449.9L588 433.3L588.2 448.5L588.3 449.5L588.5 437.4L588.7 439L588.9 436.4L589.1 430.6L589.2 438.4L589.4 438.4L589.6 441.9L589.8 415.6L590 418.6L590.1 429.6L590.3 435.9L590.5 428.6L590.7 427.9L590.8 417.4L591 432.8L591.2 450.7L591.4 433L591.6 425L591.7 433.5L591.9 427.6L592.1 427.5L592.3 419.6L592.5 435.7L592.6 412.7L592.8 440.7L593 415.4L593.2 438L593.3 427.2L593.5 427.2L593.7 430.1L593.9 423.6L594.1 424.2L594.2 435.7L594.4 445.2L594.6 422.5L594.8 425.7L595 457.3L595.1 434.9L595.3 445.9L595.5 427.9L595.7 437.6L595.8 435.6L596 436.7L596.2 429.8L596.4 426L596.6 427.5L596.7 422.6L596.9 420.6L597.1 427.8L597.3 441.6L597.5 426.8L597.6 431.7L597.8 439.9L598 421.5L598.2 427.6L598.4 427.6L598.5 435.7L598.7 444.8L598.9 415.7L599.1 431.3L599.2 414.4L599.4 426.2L599.6 428.2L599.8 425.8L600 428.5L600.1 427.4L600.3 430.3L600.5 425.1L600.7 428L600.9 424.4L601 428.6L601.2 435.6L601.4 418.2L601.6 477.1L601.7 422.7L601.9 438.5L602.1 425.9L602.3 420.3L602.5 438.4L602.6 431.8L602.8 425.4L603 427.8L603.2 442L603.4 435.5L603.5 425.7L603.7 424.8L603.9 431.8L604.1 422L604.2 424.7L604.4 439.1L604.6 436.1L604.8 417.8L605 429.2L605.1 428.2L605.3 436.5L605.5 428.8L605.7 424.6L605.9 440.8L606 423.9L606.2 433.8L606.4 425.8L606.6 433.1L606.7 423.4L606.9 442.7L607.1 427.6L607.3 434.7L607.5 436.9L607.6 429.6L607.8 431.2L608 421.9L608.2 431.2L608.4 431L608.5 444.1L608.7 427.2L608.9 422.9L609.1 428.4L609.2 438.2L609.4 416.3L609.6 418.6L609.8 477.8L610 431.6L610.1 435.9L610.3 429.6L610.5 423.9L610.7 434.4L610.9 424.9L611 429.3L611.2 424.2L611.4 445.1L611.6 428.1L611.7 435.1L611.9 423.6L612.1 432.8L612.3 426.1L612.5 421.9L612.6 426.5L612.8 420L613 432.7L613.2 431.5L613.4 441.4L613.5 417.9L613.7 428.4L613.9 458.5L614.1 427.1L614.3 419.7L614.4 438.8L614.6 421.1L614.8 435.6L615 430.8L615.1 442.5L615.3 430.6L615.5 434.6L615.7 425.2L615.9 455L616 424.2L616.2 438.3L616.4 434.4L616.6 429.7L616.8 427.4L616.9 420.8L617.1 437.4L617.3 424.2L617.5 439.9L617.6 437.2L617.8 423.8L618 425L618.2 429.8L618.4 430.3L618.5 418.5L618.7 431L618.9 428L619.1 427.4L619.3 431.1L619.4 423.7L619.6 417.6L619.8 422.7L620 422.5L620.1 422.2L620.3 415.9L620.5 417.4L620.7 412.8L620.9 408.5L621 409.1L621.2 406.8L621.4 411.3L621.6 409.6L621.8 407.6L621.9 415.8L622.1 422.1L622.3 413.1L622.5 413.6L622.6 415.5L622.8 421.6L623 417.8L623.2 433L623.4 426.8L623.5 427.4L623.7 420.6L623.9 423.1L624.1 425.2L624.3 428.5L624.4 431.8L624.6 436L624.8 426.1L625 433.6L625.1 429.4L625.3 430.7L625.5 434L625.7 425.9L625.9 425.4L626 428.2L626.2 424.7L626.4 440.4L626.6 427.4L626.8 418.7L626.9 433.2L627.1 458.3L627.3 431.4L627.5 425.8L627.7 444.3L627.8 433.2L628 433L628.2 429.5L628.4 437.6L628.5 434.4L628.7 431.3L628.9 426.9L629.1 438.2L629.3 445.3L629.4 421L629.6 417.9L629.8 421.3L630 442.5L630.2 433L630.3 428.2L630.5 455.2L630.7 449L630.9 428.7L631 427.6L631.2 431L631.4 432.4L631.6 440.8L631.8 442.9L631.9 425.9L632.1 441.4L632.3 420.5L632.5 424.2L632.7 428.6L632.8 420.5L633 427.1L633.2 418L633.4 439.1L633.5 434.6L633.7 425.3L633.9 430.8L634.1 428L634.3 439.7L634.4 426.1L634.6 424.8L634.8 437.9L635 437.1L635.2 435.4L635.3 420L635.5 418.9L635.7 447.3L635.9 454.4L636 424.1L636.2 430.1L636.4 429.5L636.6 425.8L636.8 420.6L636.9 425.2L637.1 451.7L637.3 429.1L637.5 424.1L637.7 420.5L637.8 433.8L638 440.7L638.2 425.2L638.4 437.1L638.5 417.5L638.7 422.2L638.9 433.6L639.1 421.1L639.3 429.6L639.4 430L639.6 418L639.8 439.8L640 436.5L640.2 438.4L640.3 434L640.5 425.8L640.7 435.2L640.9 431.9L641 433.2L641.2 437L641.4 426L641.6 445.6L641.8 429.5L641.9 426.5L642.1 430.9L642.3 454.6" fill="none" stroke="#ff0000" stroke-width="0.85" stroke-linejoin="round"/>
</g>
<path d="M173.3 482v-5.6M173.3 335.5v5.6M262.7 482v-5.6M262.7 335.5v5.6M352 482v-5.6M352 335.5v5.6M441.3 482v-5.6M441.3 335.5v5.6M530.6 482v-5.6M530.6 335.5v5.6M620 482v-5.6M620 335.5v5.6M84 370.1h5.6M642.3 370.1h-5.6M84 404.6h5.6M642.3 404.6h-5.6M84 439.2h5.6M642.3 439.2h-5.6M84 473.7h5.6M642.3 473.7h-5.6" stroke="#3a3a3a" stroke-width="1" fill="none"/>
<rect x="84" y="335.5" width="558.3" height="146.5" fill="none" stroke="#575757" stroke-width="1"/>
<text x="78" y="341" font-size="11.2" text-anchor="end" fill="#333333" stroke="#333333" stroke-width="0.25">40</text>
<text x="78" y="375.6" font-size="11.2" text-anchor="end" fill="#333333" stroke="#333333" stroke-width="0.25">20</text>
<text x="78" y="410.1" font-size="11.2" text-anchor="end" fill="#333333" stroke="#333333" stroke-width="0.25">0</text>
<text x="78" y="444.7" font-size="11.2" text-anchor="end" fill="#333333" stroke="#333333" stroke-width="0.25">-20</text>
<text x="78" y="479.2" font-size="11.2" text-anchor="end" fill="#333333" stroke="#333333" stroke-width="0.25">-40</text>
<text x="82.6" y="500.9" font-size="11.2" text-anchor="middle" fill="#333333" stroke="#333333" stroke-width="0.25">0</text>
<text x="171.9" y="500.9" font-size="11.2" text-anchor="middle" fill="#333333" stroke="#333333" stroke-width="0.25">200</text>
<text x="261.3" y="500.9" font-size="11.2" text-anchor="middle" fill="#333333" stroke="#333333" stroke-width="0.25">400</text>
<text x="350.6" y="500.9" font-size="11.2" text-anchor="middle" fill="#333333" stroke="#333333" stroke-width="0.25">600</text>
<text x="439.9" y="500.9" font-size="11.2" text-anchor="middle" fill="#333333" stroke="#333333" stroke-width="0.25">800</text>
<text x="529.2" y="500.9" font-size="11.2" text-anchor="middle" fill="#333333" stroke="#333333" stroke-width="0.25">1000</text>
<text x="618.6" y="500.9" font-size="11.2" text-anchor="middle" fill="#333333" stroke="#333333" stroke-width="0.25">1200</text>
<text x="359.7" y="519.3" font-size="12.2" text-anchor="middle" fill="#333333" stroke="#333333" stroke-width="0.25" textLength="85" lengthAdjust="spacingAndGlyphs">Frequency (Hz)</text>
<text x="53.9" y="412.8" font-size="12" text-anchor="middle" fill="#333333" stroke="#333333" stroke-width="0.25" textLength="132" lengthAdjust="spacingAndGlyphs" transform="rotate(-90 53.9 412.8)">Frequency content (dB)</text>
<text x="-0.7" y="344.6" font-size="21.5" text-anchor="start" fill="#333333" font-weight="bold">c</text>
</svg>
</body></html>
